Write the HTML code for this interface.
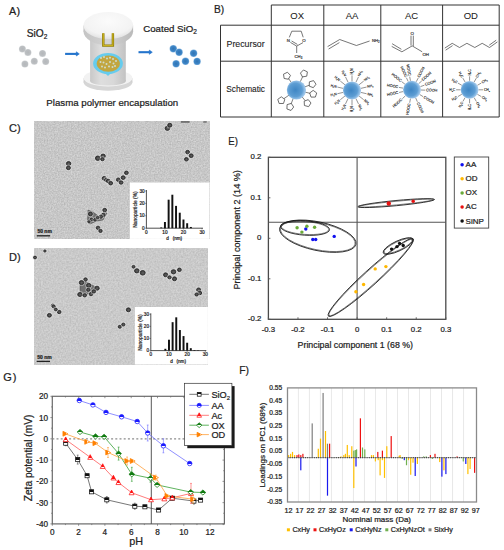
<!DOCTYPE html>
<html><head><meta charset="utf-8"><title>Figure</title>
<style>
html,body{margin:0;padding:0;background:#fff;}
body{width:504px;height:550px;overflow:hidden;font-family:"Liberation Sans", sans-serif;}
svg{display:block;font-family:"Liberation Sans", sans-serif;}
text{stroke:currentColor;stroke-width:0.22px;}
</style></head><body>
<svg width="504" height="550" viewBox="0 0 504 550">

<defs>
<linearGradient id="hfSiO2" x1="0" y1="0" x2="0" y2="1"><stop offset="0" stop-color="#111"/><stop offset="0.55" stop-color="#111"/><stop offset="0.55" stop-color="#fff"/><stop offset="1" stop-color="#fff"/></linearGradient>
<linearGradient id="hfAA" x1="0" y1="0" x2="0" y2="1"><stop offset="0" stop-color="#1a1aff"/><stop offset="0.55" stop-color="#1a1aff"/><stop offset="0.55" stop-color="#fff"/><stop offset="1" stop-color="#fff"/></linearGradient>
<linearGradient id="hfAc" x1="0" y1="0" x2="0" y2="1"><stop offset="0" stop-color="#ff1010"/><stop offset="0.7" stop-color="#ff1010"/><stop offset="0.7" stop-color="#fff"/><stop offset="1" stop-color="#fff"/></linearGradient>
<linearGradient id="hfOX" x1="0" y1="0" x2="0" y2="1"><stop offset="0" stop-color="#0f7a0f"/><stop offset="0.55" stop-color="#0f7a0f"/><stop offset="0.55" stop-color="#fff"/><stop offset="1" stop-color="#fff"/></linearGradient>
<linearGradient id="hfOD" x1="0" y1="0" x2="1" y2="0"><stop offset="0" stop-color="#ff8000"/><stop offset="0.55" stop-color="#ff8000"/><stop offset="0.55" stop-color="#fff"/><stop offset="1" stop-color="#fff"/></linearGradient>
<radialGradient id="gball" cx="0.5" cy="0.5" r="0.5"><stop offset="0" stop-color="#b4b7ba"/><stop offset="0.75" stop-color="#bcbfc2"/><stop offset="1" stop-color="#cfd2d4"/></radialGradient>
<radialGradient id="bball" cx="0.5" cy="0.5" r="0.5"><stop offset="0" stop-color="#2f73b3"/><stop offset="0.75" stop-color="#3f87c8"/><stop offset="1" stop-color="#8ab8e0"/></radialGradient>
<radialGradient id="sph" cx="0.45" cy="0.5" r="0.5"><stop offset="0" stop-color="#3f86c4"/><stop offset="0.7" stop-color="#5d9dd3"/><stop offset="1" stop-color="#9cc5ea"/></radialGradient>
<linearGradient id="gbody" x1="0" x2="1" y1="0" y2="0"><stop offset="0" stop-color="#c8c8c8"/><stop offset="0.3" stop-color="#dedede"/><stop offset="0.65" stop-color="#d8d8d8"/><stop offset="1" stop-color="#c2c2c2"/></linearGradient>
<linearGradient id="gcap" x1="0" x2="1" y1="0" y2="0"><stop offset="0" stop-color="#c4c4c4"/><stop offset="0.5" stop-color="#d4d4d4"/><stop offset="1" stop-color="#bababa"/></linearGradient>
<linearGradient id="gbase" x1="0" x2="1" y1="0" y2="0"><stop offset="0" stop-color="#d0d0d0"/><stop offset="0.5" stop-color="#ececec"/><stop offset="1" stop-color="#cfcfcf"/></linearGradient>
<radialGradient id="gtop" cx="0.5" cy="0.35" r="0.65"><stop offset="0" stop-color="#fbfbfb"/><stop offset="0.75" stop-color="#f3f3f3"/><stop offset="1" stop-color="#e2e2e2"/></radialGradient>
<filter id="noise1" x="0" y="0" width="100%" height="100%" color-interpolation-filters="sRGB"><feTurbulence type="fractalNoise" baseFrequency="0.7" numOctaves="2" seed="4"/><feColorMatrix type="matrix" values="0.2 0 0 0 0.68  0.2 0 0 0 0.68  0.2 0 0 0 0.68  0 0 0 0 1"/></filter>
<filter id="noise2" x="0" y="0" width="100%" height="100%" color-interpolation-filters="sRGB"><feTurbulence type="fractalNoise" baseFrequency="0.6" numOctaves="2" seed="9"/><feColorMatrix type="matrix" values="0.16 0 0 0 0.71  0.16 0 0 0 0.71  0.16 0 0 0 0.71  0 0 0 0 1"/></filter>
<filter id="bl6" x="-50%" y="-50%" width="200%" height="200%"><feGaussianBlur stdDeviation="0.7"/></filter>
<filter id="bl5" x="-50%" y="-50%" width="200%" height="200%"><feGaussianBlur stdDeviation="0.45"/></filter>
<filter id="soft" x="-5%" y="-5%" width="110%" height="110%"><feGaussianBlur stdDeviation="0.35"/></filter>
<radialGradient id="tp" cx="0.55" cy="0.55" r="0.55"><stop offset="0" stop-color="#626262"/><stop offset="0.6" stop-color="#4a4a4a"/><stop offset="1" stop-color="#363636"/></radialGradient>
</defs>

<rect width="504" height="550" fill="#fff"/>
<text x="9.00" y="14.90" font-size="10.8" text-anchor="start" fill="#222" color="#222" letter-spacing="0.4">A)</text>
<text x="26.80" y="37.20" font-size="10.2" text-anchor="start" fill="#222" color="#222" >SiO<tspan font-size="6.5" dy="2">2</tspan></text>
<circle cx="22.4" cy="48.9" r="3.5" fill="url(#gball)" filter="url(#bl6)"/>
<circle cx="27.9" cy="52.4" r="3.5" fill="url(#gball)" filter="url(#bl6)"/>
<circle cx="42.5" cy="53.4" r="3.5" fill="url(#gball)" filter="url(#bl6)"/>
<circle cx="24.9" cy="64.1" r="3.5" fill="url(#gball)" filter="url(#bl6)"/>
<circle cx="34.3" cy="61.3" r="3.5" fill="url(#gball)" filter="url(#bl6)"/>
<circle cx="45.7" cy="61.6" r="3.5" fill="url(#gball)" filter="url(#bl6)"/>
<line x1="65.1" y1="53.9" x2="76.8" y2="53.9" stroke="#2474cc" stroke-width="2.1"/><path d="M76.3,51.8 L79.3,53.9 L76.3,56.0 Z" fill="#2474cc" stroke="#2474cc" stroke-width="0.6" stroke-linejoin="round"/>
<line x1="138.5" y1="52.2" x2="149.8" y2="52.2" stroke="#2474cc" stroke-width="2.1"/><path d="M149.3,50.1 L152.3,52.2 L149.3,54.300000000000004 Z" fill="#2474cc" stroke="#2474cc" stroke-width="0.6" stroke-linejoin="round"/>
<ellipse cx="108" cy="82.3" rx="24.4" ry="8.4" fill="#d6d6d6"/>
<rect x="83.6" y="78" width="48.8" height="4.3" fill="url(#gbase)"/>
<ellipse cx="108" cy="78" rx="24.4" ry="8.4" fill="#f2f2f2"/>
<rect x="90.1" y="34" width="35.7" height="47" fill="url(#gbody)"/>
<ellipse cx="108" cy="81" rx="17.85" ry="4.6" fill="url(#gbody)"/>
<ellipse cx="108.3" cy="31.6" rx="24.8" ry="13.6" fill="url(#gcap)"/>
<rect x="83.5" y="25.5" width="49.6" height="6.1" fill="url(#gcap)"/>
<ellipse cx="108.3" cy="25.5" rx="24.8" ry="13.6" fill="url(#gtop)"/>
<path d="M103.3,33.2 L103.3,45.6 L112.9,45.6 L112.9,33.2" fill="none" stroke="#8f7d08" stroke-width="2.4"/>
<path d="M103.3,33.2 L103.3,45.6 L112.9,45.6 L112.9,33.2" fill="none" stroke="#d0b820" stroke-width="1.0"/>
<ellipse cx="108" cy="63.6" rx="14.9" ry="10.6" fill="#66ccee"/>
<path d="M105.5,73.5 L108,76 L110.5,73.5 Z" fill="#66ccee"/>
<ellipse cx="108.3" cy="63.6" rx="11.6" ry="8.2" fill="#c2a640"/>
<circle cx="101" cy="58" r="1.0" fill="#cfe8f0" opacity="0.8"/>
<circle cx="104" cy="57" r="1.0" fill="#cfe8f0" opacity="0.8"/>
<circle cx="107" cy="58.5" r="1.0" fill="#cfe8f0" opacity="0.8"/>
<circle cx="110" cy="57.8" r="1.0" fill="#cfe8f0" opacity="0.8"/>
<circle cx="113" cy="59" r="1.0" fill="#cfe8f0" opacity="0.8"/>
<circle cx="100.5" cy="62" r="1.0" fill="#cfe8f0" opacity="0.8"/>
<circle cx="103.5" cy="62.5" r="1.0" fill="#cfe8f0" opacity="0.8"/>
<circle cx="106.5" cy="64" r="1.0" fill="#cfe8f0" opacity="0.8"/>
<circle cx="110" cy="62" r="1.0" fill="#cfe8f0" opacity="0.8"/>
<circle cx="113.5" cy="63.5" r="1.0" fill="#cfe8f0" opacity="0.8"/>
<circle cx="116" cy="61" r="1.0" fill="#cfe8f0" opacity="0.8"/>
<circle cx="102" cy="66.5" r="1.0" fill="#cfe8f0" opacity="0.8"/>
<circle cx="105" cy="67.5" r="1.0" fill="#cfe8f0" opacity="0.8"/>
<circle cx="109" cy="66.5" r="1.0" fill="#cfe8f0" opacity="0.8"/>
<circle cx="112.5" cy="67" r="1.0" fill="#cfe8f0" opacity="0.8"/>
<circle cx="115" cy="66" r="1.0" fill="#cfe8f0" opacity="0.8"/>
<text x="143.20" y="32.20" font-size="9.7" text-anchor="start" fill="#222" color="#222" >Coated SiO<tspan font-size="6.5" dy="2">2</tspan></text>
<circle cx="173.3" cy="48.7" r="3.7" fill="url(#bball)" filter="url(#bl5)"/>
<circle cx="179.1" cy="52.3" r="3.7" fill="url(#bball)" filter="url(#bl5)"/>
<circle cx="193.6" cy="53.3" r="3.7" fill="url(#bball)" filter="url(#bl5)"/>
<circle cx="176.1" cy="63.8" r="3.7" fill="url(#bball)" filter="url(#bl5)"/>
<circle cx="185.5" cy="61.3" r="3.7" fill="url(#bball)" filter="url(#bl5)"/>
<circle cx="197.1" cy="61.4" r="3.7" fill="url(#bball)" filter="url(#bl5)"/>
<text x="112.30" y="106.20" font-size="9.7" text-anchor="middle" fill="#222" color="#222" >Plasma polymer encapsulation</text>
<text x="214.00" y="13.40" font-size="10.4" text-anchor="start" fill="#222" color="#222" textLength="10.2" lengthAdjust="spacingAndGlyphs">B)</text>
<line x1="271.3" y1="5" x2="499.2" y2="5" stroke="#333" stroke-width="1"/>
<line x1="220.5" y1="25.2" x2="499.2" y2="25.2" stroke="#333" stroke-width="1"/>
<line x1="220.5" y1="61.2" x2="499.2" y2="61.2" stroke="#333" stroke-width="1"/>
<line x1="220.5" y1="117" x2="499.2" y2="117" stroke="#333" stroke-width="1"/>
<line x1="220.5" y1="25.2" x2="220.5" y2="117" stroke="#333" stroke-width="1"/>
<line x1="271.3" y1="5" x2="271.3" y2="117" stroke="#333" stroke-width="1"/>
<line x1="323.8" y1="5" x2="323.8" y2="117" stroke="#333" stroke-width="1"/>
<line x1="380.8" y1="5" x2="380.8" y2="117" stroke="#333" stroke-width="1"/>
<line x1="442.6" y1="5" x2="442.6" y2="117" stroke="#333" stroke-width="1"/>
<line x1="499.2" y1="5" x2="499.2" y2="117" stroke="#333" stroke-width="1"/>
<text x="297.20" y="18.90" font-size="9.5" text-anchor="middle" fill="#222" color="#222" style="stroke-width:0.05px">OX</text>
<text x="352.00" y="18.90" font-size="9.5" text-anchor="middle" fill="#222" color="#222" style="stroke-width:0.05px">AA</text>
<text x="411.60" y="18.90" font-size="9.5" text-anchor="middle" fill="#222" color="#222" style="stroke-width:0.05px">AC</text>
<text x="470.80" y="18.90" font-size="9.5" text-anchor="middle" fill="#222" color="#222" style="stroke-width:0.05px">OD</text>
<text x="245.60" y="46.70" font-size="8.8" text-anchor="middle" fill="#222" color="#222" style="stroke-width:0.1px">Precursor</text>
<text x="245.60" y="92.20" font-size="8.3" text-anchor="middle" fill="#222" color="#222" style="stroke-width:0.1px">Schematic</text>
<path d="M291.8,31.2 L301.2,31.2 L303.2,37.3 M303.0,42.6 L296.7,46.1 L290.4,42.4 M289.3,37.4 L291.8,31.2 M296.7,46.1 L296.7,53.0 M291.6,41.0 L297.4,44.4" fill="none" stroke="#4a4a4a" stroke-width="0.75"/>
<text x="288.30" y="41.90" font-size="4.4" text-anchor="middle" fill="#444" color="#444" >N</text>
<text x="304.00" y="41.90" font-size="4.4" text-anchor="middle" fill="#444" color="#444" >O</text>
<text x="296.20" y="57.60" font-size="4.2" text-anchor="start" fill="#444" color="#444" transform="translate(-1.6,0)">CH<tspan font-size="2.8" dy="1">3</tspan></text>
<path d="M327.6,46.6 L339.7,39.5 L356.4,45.5 L369.6,41 M328.6,49.0 L339.4,42.6" fill="none" stroke="#4a4a4a" stroke-width="0.75"/>
<text x="372.00" y="42.40" font-size="4.2" text-anchor="start" fill="#444" color="#444" >NH<tspan font-size="2.8" dy="1">2</tspan></text>
<path d="M392.1,43.7 L401.4,49.3 M391.7,46.4 L401.9,51.8 L412.2,45.9 L422.2,51.8 M411.0,45.6 L411.0,35.6 M413.3,46.2 L413.3,35.6" fill="none" stroke="#4a4a4a" stroke-width="0.75"/>
<text x="412.10" y="34.60" font-size="4.4" text-anchor="middle" fill="#444" color="#444" >O</text>
<text x="425.70" y="56.00" font-size="4.4" text-anchor="middle" fill="#444" color="#444" >OH</text>
<path d="M444.8,48.1 L452.2,43.3 L459.5,47.5 L466.9,43.3 L474.8,47.5 L482.2,43.3 L489.5,47.5 L497.4,41.9 M445.6,50.2 L452.6,45.6 M489.2,45.2 L496.2,40.2" fill="none" stroke="#4a4a4a" stroke-width="0.75"/>
<line x1="288.60" y1="78.55" x2="291.33" y2="82.56" stroke="#4a4a4a" stroke-width="0.7"/>
<polygon points="287.44,72.26 290.46,75.39 288.42,79.23 284.14,78.47 283.53,74.16" fill="none" stroke="#4a4a4a" stroke-width="0.8"/>
<line x1="302.74" y1="76.50" x2="300.22" y2="81.85" stroke="#4a4a4a" stroke-width="0.7"/>
<polygon points="303.46,69.96 307.37,71.86 306.76,76.17 302.48,76.93 300.44,73.09" fill="none" stroke="#4a4a4a" stroke-width="0.8"/>
<line x1="309.30" y1="85.21" x2="304.84" y2="86.87" stroke="#4a4a4a" stroke-width="0.7"/>
<polygon points="313.57,80.62 316.00,84.23 313.32,87.66 309.23,86.17 309.38,81.82" fill="none" stroke="#4a4a4a" stroke-width="0.8"/>
<line x1="310.09" y1="93.34" x2="305.14" y2="92.13" stroke="#4a4a4a" stroke-width="0.7"/>
<polygon points="313.20,90.40 316.72,92.96 315.37,97.09 311.03,97.09 309.68,92.96" fill="none" stroke="#4a4a4a" stroke-width="0.8"/>
<line x1="305.26" y1="100.73" x2="302.13" y2="96.94" stroke="#4a4a4a" stroke-width="0.7"/>
<polygon points="308.26,99.63 310.99,103.01 308.63,106.65 304.42,105.53 304.20,101.18" fill="none" stroke="#4a4a4a" stroke-width="0.8"/>
<line x1="283.93" y1="98.67" x2="289.01" y2="95.14" stroke="#4a4a4a" stroke-width="0.7"/>
<polygon points="281.30,96.80 284.82,99.36 283.47,103.49 279.13,103.49 277.78,99.36" fill="none" stroke="#4a4a4a" stroke-width="0.8"/>
<line x1="291.13" y1="103.91" x2="293.21" y2="98.42" stroke="#4a4a4a" stroke-width="0.7"/>
<polygon points="291.27,103.42 293.70,107.03 291.02,110.46 286.93,108.97 287.08,104.62" fill="none" stroke="#4a4a4a" stroke-width="0.8"/>
<circle cx="296.4" cy="90.0" r="9.6" fill="url(#sph)"/>
<line x1="352.00" y1="81.40" x2="352.00" y2="75.40" stroke="#4a4a4a" stroke-width="0.6"/>
<text x="352.00" y="74.60" font-size="3.4" text-anchor="start" dominant-baseline="central" fill="#333" color="#333" style="stroke-width:0.15px" transform="rotate(-90.0 352.00 74.60)">H<tspan font-size="2.2" dy="0.8">2</tspan><tspan dy="-0.8">N</tspan></text>
<line x1="355.90" y1="82.29" x2="358.51" y2="76.89" stroke="#4a4a4a" stroke-width="0.6"/>
<text x="358.86" y="76.16" font-size="3.4" text-anchor="start" dominant-baseline="central" fill="#333" color="#333" style="stroke-width:0.15px" transform="rotate(-64.3 358.86 76.16)">NH<tspan font-size="2" dy="0.8">2</tspan></text>
<line x1="359.04" y1="84.79" x2="363.73" y2="81.05" stroke="#4a4a4a" stroke-width="0.6"/>
<text x="364.35" y="80.55" font-size="3.4" text-anchor="start" dominant-baseline="central" fill="#333" color="#333" style="stroke-width:0.15px" transform="rotate(-38.6 364.35 80.55)">NH<tspan font-size="2" dy="0.8">2</tspan></text>
<line x1="360.77" y1="88.40" x2="366.62" y2="87.06" stroke="#4a4a4a" stroke-width="0.6"/>
<text x="367.40" y="86.88" font-size="3.4" text-anchor="start" dominant-baseline="central" fill="#333" color="#333" style="stroke-width:0.15px" transform="rotate(-12.9 367.40 86.88)">NH<tspan font-size="2" dy="0.8">2</tspan></text>
<line x1="360.77" y1="92.40" x2="366.62" y2="93.74" stroke="#4a4a4a" stroke-width="0.6"/>
<text x="367.40" y="93.92" font-size="3.4" text-anchor="start" dominant-baseline="central" fill="#333" color="#333" style="stroke-width:0.15px" transform="rotate(12.9 367.40 93.92)">NH<tspan font-size="2" dy="0.8">2</tspan></text>
<line x1="359.04" y1="96.01" x2="363.73" y2="99.75" stroke="#4a4a4a" stroke-width="0.6"/>
<text x="364.35" y="100.25" font-size="3.4" text-anchor="start" dominant-baseline="central" fill="#333" color="#333" style="stroke-width:0.15px" transform="rotate(38.6 364.35 100.25)">NH<tspan font-size="2" dy="0.8">2</tspan></text>
<line x1="355.90" y1="98.51" x2="358.51" y2="103.91" stroke="#4a4a4a" stroke-width="0.6"/>
<text x="358.86" y="104.64" font-size="3.4" text-anchor="start" dominant-baseline="central" fill="#333" color="#333" style="stroke-width:0.15px" transform="rotate(64.3 358.86 104.64)">NH<tspan font-size="2" dy="0.8">2</tspan></text>
<line x1="352.00" y1="99.40" x2="352.00" y2="105.40" stroke="#4a4a4a" stroke-width="0.6"/>
<text x="352.00" y="106.20" font-size="3.4" text-anchor="end" dominant-baseline="central" fill="#333" color="#333" style="stroke-width:0.15px" transform="rotate(-90.0 352.00 106.20)">H<tspan font-size="2.2" dy="0.8">2</tspan><tspan dy="-0.8">N</tspan></text>
<line x1="348.10" y1="98.51" x2="345.49" y2="103.91" stroke="#4a4a4a" stroke-width="0.6"/>
<text x="345.14" y="104.64" font-size="3.4" text-anchor="end" dominant-baseline="central" fill="#333" color="#333" style="stroke-width:0.15px" transform="rotate(-64.3 345.14 104.64)">H<tspan font-size="2.2" dy="0.8">2</tspan><tspan dy="-0.8">N</tspan></text>
<line x1="344.96" y1="96.01" x2="340.27" y2="99.75" stroke="#4a4a4a" stroke-width="0.6"/>
<text x="339.65" y="100.25" font-size="3.4" text-anchor="end" dominant-baseline="central" fill="#333" color="#333" style="stroke-width:0.15px" transform="rotate(-38.6 339.65 100.25)">H<tspan font-size="2.2" dy="0.8">2</tspan><tspan dy="-0.8">N</tspan></text>
<line x1="343.23" y1="92.40" x2="337.38" y2="93.74" stroke="#4a4a4a" stroke-width="0.6"/>
<text x="336.60" y="93.92" font-size="3.4" text-anchor="end" dominant-baseline="central" fill="#333" color="#333" style="stroke-width:0.15px" transform="rotate(-12.9 336.60 93.92)">H<tspan font-size="2.2" dy="0.8">2</tspan><tspan dy="-0.8">N</tspan></text>
<line x1="343.23" y1="88.40" x2="337.38" y2="87.06" stroke="#4a4a4a" stroke-width="0.6"/>
<text x="336.60" y="86.88" font-size="3.4" text-anchor="end" dominant-baseline="central" fill="#333" color="#333" style="stroke-width:0.15px" transform="rotate(-347.1 336.60 86.88)">H<tspan font-size="2.2" dy="0.8">2</tspan><tspan dy="-0.8">N</tspan></text>
<line x1="344.96" y1="84.79" x2="340.27" y2="81.05" stroke="#4a4a4a" stroke-width="0.6"/>
<text x="339.65" y="80.55" font-size="3.4" text-anchor="end" dominant-baseline="central" fill="#333" color="#333" style="stroke-width:0.15px" transform="rotate(-321.4 339.65 80.55)">H<tspan font-size="2.2" dy="0.8">2</tspan><tspan dy="-0.8">N</tspan></text>
<line x1="348.10" y1="82.29" x2="345.49" y2="76.89" stroke="#4a4a4a" stroke-width="0.6"/>
<text x="345.14" y="76.16" font-size="3.4" text-anchor="end" dominant-baseline="central" fill="#333" color="#333" style="stroke-width:0.15px" transform="rotate(-295.7 345.14 76.16)">H<tspan font-size="2.2" dy="0.8">2</tspan><tspan dy="-0.8">N</tspan></text>
<circle cx="352.0" cy="90.4" r="9.0" fill="url(#sph)"/>
<line x1="410.44" y1="80.84" x2="409.71" y2="76.70" stroke="#4a4a4a" stroke-width="0.6"/>
<text x="409.57" y="75.91" font-size="3.8" text-anchor="end" dominant-baseline="central" fill="#333" color="#333" style="stroke-width:0.15px" transform="rotate(-280.0 409.57 75.91)">HOOC</text>
<line x1="416.23" y1="81.75" x2="418.20" y2="78.05" stroke="#4a4a4a" stroke-width="0.6"/>
<text x="418.57" y="77.34" font-size="3.8" text-anchor="start" dominant-baseline="central" fill="#333" color="#333" style="stroke-width:0.15px" transform="rotate(-62.0 418.57 77.34)">COOH</text>
<line x1="418.69" y1="83.68" x2="421.81" y2="80.87" stroke="#4a4a4a" stroke-width="0.6"/>
<text x="422.40" y="80.33" font-size="3.8" text-anchor="start" dominant-baseline="central" fill="#333" color="#333" style="stroke-width:0.15px" transform="rotate(-42.0 422.40 80.33)">COOH</text>
<line x1="420.46" y1="86.62" x2="424.40" y2="85.19" stroke="#4a4a4a" stroke-width="0.6"/>
<text x="425.16" y="84.91" font-size="3.8" text-anchor="start" dominant-baseline="central" fill="#333" color="#333" style="stroke-width:0.15px" transform="rotate(-20.0 425.16 84.91)">COOH</text>
<line x1="420.99" y1="90.01" x2="425.19" y2="90.16" stroke="#4a4a4a" stroke-width="0.6"/>
<text x="425.99" y="90.19" font-size="3.8" text-anchor="start" dominant-baseline="central" fill="#333" color="#333" style="stroke-width:0.15px" transform="rotate(2.0 425.99 90.19)">COOH</text>
<line x1="419.63" y1="94.47" x2="423.19" y2="96.69" stroke="#4a4a4a" stroke-width="0.6"/>
<text x="423.87" y="97.12" font-size="3.8" text-anchor="start" dominant-baseline="central" fill="#333" color="#333" style="stroke-width:0.15px" transform="rotate(32.0 423.87 97.12)">COOH</text>
<line x1="415.66" y1="97.92" x2="417.37" y2="101.76" stroke="#4a4a4a" stroke-width="0.6"/>
<text x="417.69" y="102.49" font-size="3.8" text-anchor="start" dominant-baseline="central" fill="#333" color="#333" style="stroke-width:0.15px" transform="rotate(66.0 417.69 102.49)">COOH</text>
<line x1="410.44" y1="98.56" x2="409.71" y2="102.70" stroke="#4a4a4a" stroke-width="0.6"/>
<text x="409.57" y="103.49" font-size="3.8" text-anchor="end" dominant-baseline="central" fill="#333" color="#333" style="stroke-width:0.15px" transform="rotate(-80.0 409.57 103.49)">HOOC</text>
<line x1="405.42" y1="95.84" x2="402.35" y2="98.70" stroke="#4a4a4a" stroke-width="0.6"/>
<text x="401.76" y="99.25" font-size="3.8" text-anchor="end" dominant-baseline="central" fill="#333" color="#333" style="stroke-width:0.15px" transform="rotate(-43.0 401.76 99.25)">HOOC</text>
<line x1="403.20" y1="91.57" x2="399.09" y2="92.44" stroke="#4a4a4a" stroke-width="0.6"/>
<text x="398.31" y="92.61" font-size="3.8" text-anchor="end" dominant-baseline="central" fill="#333" color="#333" style="stroke-width:0.15px" transform="rotate(-12.0 398.31 92.61)">HOOC</text>
<line x1="403.14" y1="88.14" x2="399.00" y2="87.41" stroke="#4a4a4a" stroke-width="0.6"/>
<text x="398.21" y="87.27" font-size="3.8" text-anchor="end" dominant-baseline="central" fill="#333" color="#333" style="stroke-width:0.15px" transform="rotate(-350.0 398.21 87.27)">HOOC</text>
<line x1="404.91" y1="84.16" x2="401.60" y2="81.57" stroke="#4a4a4a" stroke-width="0.6"/>
<text x="400.97" y="81.08" font-size="3.8" text-anchor="end" dominant-baseline="central" fill="#333" color="#333" style="stroke-width:0.15px" transform="rotate(-322.0 400.97 81.08)">HOOC</text>
<line x1="408.20" y1="81.54" x2="406.42" y2="77.74" stroke="#4a4a4a" stroke-width="0.6"/>
<text x="406.08" y="77.01" font-size="3.8" text-anchor="end" dominant-baseline="central" fill="#333" color="#333" style="stroke-width:0.15px" transform="rotate(-295.0 406.08 77.01)">HOOC</text>
<circle cx="412.0" cy="89.7" r="8.9" fill="url(#sph)"/>
<line x1="469.60" y1="80.80" x2="469.60" y2="76.30" stroke="#4a4a4a" stroke-width="0.6"/>
<text x="469.60" y="75.50" font-size="3.4" text-anchor="start" dominant-baseline="central" fill="#333" color="#333" style="stroke-width:0.15px" transform="rotate(-90.0 469.60 75.50)">H<tspan font-size="2.2" dy="0.8">3</tspan><tspan dy="-0.8">C</tspan></text>
<line x1="474.10" y1="82.01" x2="476.35" y2="78.11" stroke="#4a4a4a" stroke-width="0.6"/>
<text x="476.75" y="77.42" font-size="3.4" text-anchor="start" dominant-baseline="central" fill="#333" color="#333" style="stroke-width:0.15px" transform="rotate(-60.0 476.75 77.42)">CH<tspan font-size="2" dy="0.8">3</tspan></text>
<line x1="477.39" y1="85.30" x2="481.29" y2="83.05" stroke="#4a4a4a" stroke-width="0.6"/>
<text x="481.98" y="82.65" font-size="3.4" text-anchor="start" dominant-baseline="central" fill="#333" color="#333" style="stroke-width:0.15px" transform="rotate(-30.0 481.98 82.65)">CH<tspan font-size="2" dy="0.8">3</tspan></text>
<line x1="478.60" y1="89.80" x2="483.10" y2="89.80" stroke="#4a4a4a" stroke-width="0.6"/>
<text x="483.90" y="89.80" font-size="3.4" text-anchor="start" dominant-baseline="central" fill="#333" color="#333" style="stroke-width:0.15px" transform="rotate(0.0 483.90 89.80)">CH<tspan font-size="2" dy="0.8">3</tspan></text>
<line x1="477.39" y1="94.30" x2="481.29" y2="96.55" stroke="#4a4a4a" stroke-width="0.6"/>
<text x="481.98" y="96.95" font-size="3.4" text-anchor="start" dominant-baseline="central" fill="#333" color="#333" style="stroke-width:0.15px" transform="rotate(30.0 481.98 96.95)">CH<tspan font-size="2" dy="0.8">3</tspan></text>
<line x1="474.10" y1="97.59" x2="476.35" y2="101.49" stroke="#4a4a4a" stroke-width="0.6"/>
<text x="476.75" y="102.18" font-size="3.4" text-anchor="start" dominant-baseline="central" fill="#333" color="#333" style="stroke-width:0.15px" transform="rotate(60.0 476.75 102.18)">CH<tspan font-size="2" dy="0.8">3</tspan></text>
<line x1="469.60" y1="98.80" x2="469.60" y2="103.30" stroke="#4a4a4a" stroke-width="0.6"/>
<text x="469.60" y="104.10" font-size="3.4" text-anchor="end" dominant-baseline="central" fill="#333" color="#333" style="stroke-width:0.15px" transform="rotate(-90.0 469.60 104.10)">H<tspan font-size="2.2" dy="0.8">3</tspan><tspan dy="-0.8">C</tspan></text>
<line x1="465.10" y1="97.59" x2="462.85" y2="101.49" stroke="#4a4a4a" stroke-width="0.6"/>
<text x="462.45" y="102.18" font-size="3.4" text-anchor="end" dominant-baseline="central" fill="#333" color="#333" style="stroke-width:0.15px" transform="rotate(-60.0 462.45 102.18)">H<tspan font-size="2.2" dy="0.8">3</tspan><tspan dy="-0.8">C</tspan></text>
<line x1="461.81" y1="94.30" x2="457.91" y2="96.55" stroke="#4a4a4a" stroke-width="0.6"/>
<text x="457.22" y="96.95" font-size="3.4" text-anchor="end" dominant-baseline="central" fill="#333" color="#333" style="stroke-width:0.15px" transform="rotate(-30.0 457.22 96.95)">H<tspan font-size="2.2" dy="0.8">3</tspan><tspan dy="-0.8">C</tspan></text>
<line x1="460.60" y1="89.80" x2="456.10" y2="89.80" stroke="#4a4a4a" stroke-width="0.6"/>
<text x="455.30" y="89.80" font-size="3.4" text-anchor="end" dominant-baseline="central" fill="#333" color="#333" style="stroke-width:0.15px" transform="rotate(-360.0 455.30 89.80)">H<tspan font-size="2.2" dy="0.8">3</tspan><tspan dy="-0.8">C</tspan></text>
<line x1="461.81" y1="85.30" x2="457.91" y2="83.05" stroke="#4a4a4a" stroke-width="0.6"/>
<text x="457.22" y="82.65" font-size="3.4" text-anchor="end" dominant-baseline="central" fill="#333" color="#333" style="stroke-width:0.15px" transform="rotate(-330.0 457.22 82.65)">H<tspan font-size="2.2" dy="0.8">3</tspan><tspan dy="-0.8">C</tspan></text>
<line x1="465.10" y1="82.01" x2="462.85" y2="78.11" stroke="#4a4a4a" stroke-width="0.6"/>
<text x="462.45" y="77.42" font-size="3.4" text-anchor="end" dominant-baseline="central" fill="#333" color="#333" style="stroke-width:0.15px" transform="rotate(-300.0 462.45 77.42)">H<tspan font-size="2.2" dy="0.8">3</tspan><tspan dy="-0.8">C</tspan></text>
<circle cx="469.6" cy="89.8" r="8.9" fill="url(#sph)"/>
<text x="9.00" y="131.90" font-size="11" text-anchor="start" fill="#222" color="#222" >C)</text>
<rect x="34.1" y="121.3" width="175.4" height="117.60000000000001" fill="#c6c6c6"/>
<rect x="34.1" y="121.3" width="175.4" height="117.60000000000001" filter="url(#noise1)"/>
<g filter="url(#soft)"><polygon points="88,210 93,212 99,216.5 104,212 107,213 103,220 97,221 90,224 87.5,222" fill="#e0e0e0" stroke="#e0e0e0" stroke-width="1.6" opacity="0.5"/><polygon points="88,210 93,212 99,216.5 104,212 107,213 103,220 97,221 90,224 87.5,222" fill="#707070" stroke="#4a4a4a" stroke-width="0.6"/><circle cx="68.6" cy="163.6" r="3.4" fill="#e2e2e2" opacity="0.5"/><ellipse cx="68.6" cy="163.6" rx="2.2" ry="2.0240000000000005" fill="url(#tp)" stroke="#2c2c2c" stroke-width="0.9"/><circle cx="68.4" cy="167.8" r="3.1999999999999997" fill="#e2e2e2" opacity="0.5"/><ellipse cx="68.4" cy="167.8" rx="1.9999999999999998" ry="1.8399999999999999" fill="url(#tp)" stroke="#2c2c2c" stroke-width="0.9"/><circle cx="97.8" cy="158.2" r="3.6" fill="#e2e2e2" opacity="0.5"/><ellipse cx="97.8" cy="158.2" rx="2.4000000000000004" ry="2.2080000000000006" fill="url(#tp)" stroke="#2c2c2c" stroke-width="0.9"/><circle cx="103.1" cy="156.1" r="3.4" fill="#e2e2e2" opacity="0.5"/><ellipse cx="103.1" cy="156.1" rx="2.2" ry="2.0240000000000005" fill="url(#tp)" stroke="#2c2c2c" stroke-width="0.9"/><circle cx="102.4" cy="159.2" r="2.9" fill="#e2e2e2" opacity="0.5"/><ellipse cx="102.4" cy="159.2" rx="1.7" ry="1.564" fill="url(#tp)" stroke="#2c2c2c" stroke-width="0.9"/><circle cx="167.4" cy="128.3" r="3.5" fill="#e2e2e2" opacity="0.5"/><ellipse cx="167.4" cy="128.3" rx="2.3000000000000003" ry="2.1160000000000005" fill="url(#tp)" stroke="#2c2c2c" stroke-width="0.9"/><circle cx="169.8" cy="125.2" r="3.3" fill="#e2e2e2" opacity="0.5"/><ellipse cx="169.8" cy="125.2" rx="2.1" ry="1.9320000000000002" fill="url(#tp)" stroke="#2c2c2c" stroke-width="0.9"/><circle cx="187.6" cy="152.1" r="3.1" fill="#e2e2e2" opacity="0.5"/><ellipse cx="187.6" cy="152.1" rx="1.9000000000000001" ry="1.7480000000000002" fill="url(#tp)" stroke="#2c2c2c" stroke-width="0.9"/><circle cx="191.2" cy="155.7" r="3.1999999999999997" fill="#e2e2e2" opacity="0.5"/><ellipse cx="191.2" cy="155.7" rx="1.9999999999999998" ry="1.8399999999999999" fill="url(#tp)" stroke="#2c2c2c" stroke-width="0.9"/><circle cx="186.4" cy="159.3" r="3.1" fill="#e2e2e2" opacity="0.5"/><ellipse cx="186.4" cy="159.3" rx="1.9000000000000001" ry="1.7480000000000002" fill="url(#tp)" stroke="#2c2c2c" stroke-width="0.9"/><circle cx="104.2" cy="178.3" r="3.1999999999999997" fill="#e2e2e2" opacity="0.5"/><ellipse cx="104.2" cy="178.3" rx="1.9999999999999998" ry="1.8399999999999999" fill="url(#tp)" stroke="#2c2c2c" stroke-width="0.9"/><circle cx="106.2" cy="180.0" r="2.9" fill="#e2e2e2" opacity="0.5"/><ellipse cx="106.2" cy="180.0" rx="1.7" ry="1.564" fill="url(#tp)" stroke="#2c2c2c" stroke-width="0.9"/><circle cx="108.2" cy="181.0" r="3.1" fill="#e2e2e2" opacity="0.5"/><ellipse cx="108.2" cy="181.0" rx="1.9000000000000001" ry="1.7480000000000002" fill="url(#tp)" stroke="#2c2c2c" stroke-width="0.9"/><circle cx="110.7" cy="183.2" r="3.1" fill="#e2e2e2" opacity="0.5"/><ellipse cx="110.7" cy="183.2" rx="1.9000000000000001" ry="1.7480000000000002" fill="url(#tp)" stroke="#2c2c2c" stroke-width="0.9"/><circle cx="118.3" cy="179.7" r="3.1" fill="#e2e2e2" opacity="0.5"/><ellipse cx="118.3" cy="179.7" rx="1.9000000000000001" ry="1.7480000000000002" fill="url(#tp)" stroke="#2c2c2c" stroke-width="0.9"/><circle cx="121.1" cy="182.5" r="3.1" fill="#e2e2e2" opacity="0.5"/><ellipse cx="121.1" cy="182.5" rx="1.9000000000000001" ry="1.7480000000000002" fill="url(#tp)" stroke="#2c2c2c" stroke-width="0.9"/><circle cx="123.2" cy="177.6" r="3.1999999999999997" fill="#e2e2e2" opacity="0.5"/><ellipse cx="123.2" cy="177.6" rx="1.9999999999999998" ry="1.8399999999999999" fill="url(#tp)" stroke="#2c2c2c" stroke-width="0.9"/><circle cx="126.4" cy="172.8" r="3.1" fill="#e2e2e2" opacity="0.5"/><ellipse cx="126.4" cy="172.8" rx="1.9000000000000001" ry="1.7480000000000002" fill="url(#tp)" stroke="#2c2c2c" stroke-width="0.9"/><circle cx="90.4" cy="213.9" r="3.1999999999999997" fill="#e2e2e2" opacity="0.5"/><ellipse cx="90.4" cy="213.9" rx="1.9999999999999998" ry="1.8399999999999999" fill="url(#tp)" stroke="#2c2c2c" stroke-width="0.9"/><circle cx="104.7" cy="210.1" r="3.1" fill="#e2e2e2" opacity="0.5"/><ellipse cx="104.7" cy="210.1" rx="1.9000000000000001" ry="1.7480000000000002" fill="url(#tp)" stroke="#2c2c2c" stroke-width="0.9"/><circle cx="103.3" cy="214.9" r="3.0" fill="#e2e2e2" opacity="0.5"/><ellipse cx="103.3" cy="214.9" rx="1.8" ry="1.6560000000000001" fill="url(#tp)" stroke="#2c2c2c" stroke-width="0.9"/><circle cx="100.8" cy="216.7" r="2.9" fill="#e2e2e2" opacity="0.5"/><ellipse cx="100.8" cy="216.7" rx="1.7" ry="1.564" fill="url(#tp)" stroke="#2c2c2c" stroke-width="0.9"/><circle cx="98.0" cy="227.8" r="3.0" fill="#e2e2e2" opacity="0.5"/><ellipse cx="98.0" cy="227.8" rx="1.8" ry="1.6560000000000001" fill="url(#tp)" stroke="#2c2c2c" stroke-width="0.9"/><circle cx="100.5" cy="230.9" r="2.9" fill="#e2e2e2" opacity="0.5"/><ellipse cx="100.5" cy="230.9" rx="1.7" ry="1.564" fill="url(#tp)" stroke="#2c2c2c" stroke-width="0.9"/><circle cx="91.5" cy="219.5" r="2.7" fill="#e2e2e2" opacity="0.5"/><ellipse cx="91.5" cy="219.5" rx="1.5" ry="1.3800000000000001" fill="url(#tp)" stroke="#2c2c2c" stroke-width="0.9"/><circle cx="95.0" cy="219.8" r="2.6" fill="#e2e2e2" opacity="0.5"/><ellipse cx="95.0" cy="219.8" rx="1.4" ry="1.288" fill="url(#tp)" stroke="#2c2c2c" stroke-width="0.9"/><circle cx="97.6" cy="217.6" r="2.5" fill="#e2e2e2" opacity="0.5"/><ellipse cx="97.6" cy="217.6" rx="1.3" ry="1.1960000000000002" fill="url(#tp)" stroke="#2c2c2c" stroke-width="0.9"/><circle cx="89.0" cy="221.8" r="2.4" fill="#e2e2e2" opacity="0.5"/><ellipse cx="89.0" cy="221.8" rx="1.2" ry="1.104" fill="url(#tp)" stroke="#2c2c2c" stroke-width="0.9"/></g>
<rect x="180.8" y="121.3" width="8.8" height="1.3" fill="#333" opacity="0.8"/><rect x="203.3" y="121.3" width="3.4" height="1.3" fill="#333" opacity="0.7"/>
<text x="37.40" y="233.40" font-size="5.0" text-anchor="start" fill="#222" color="#222" font-weight="bold">50  nm</text>
<line x1="36.800000000000004" y1="235.8" x2="50.1" y2="235.8" stroke="#222" stroke-width="1.3"/>
<rect x="129.8" y="182.5" width="79.69999999999999" height="56.400000000000006" fill="#fff"/>
<line x1="146.4" y1="228.2" x2="146.4" y2="190.0" stroke="#222" stroke-width="0.8"/>
<line x1="146.4" y1="228.2" x2="202.99" y2="228.2" stroke="#222" stroke-width="0.8"/>
<line x1="145.20000000000002" y1="228.20" x2="146.4" y2="228.20" stroke="#222" stroke-width="0.5"/>
<text x="144.60" y="229.70" font-size="4.7" text-anchor="end" fill="#222" color="#222" >0</text>
<line x1="146.40" y1="228.2" x2="146.40" y2="229.39999999999998" stroke="#222" stroke-width="0.5"/>
<text x="146.40" y="233.80" font-size="4.7" text-anchor="middle" fill="#222" color="#222" >0</text>
<line x1="145.20000000000002" y1="215.80" x2="146.4" y2="215.80" stroke="#222" stroke-width="0.5"/>
<text x="144.60" y="217.30" font-size="4.7" text-anchor="end" fill="#222" color="#222" >10</text>
<line x1="164.93" y1="228.2" x2="164.93" y2="229.39999999999998" stroke="#222" stroke-width="0.5"/>
<text x="164.93" y="233.80" font-size="4.7" text-anchor="middle" fill="#222" color="#222" >10</text>
<line x1="145.20000000000002" y1="203.40" x2="146.4" y2="203.40" stroke="#222" stroke-width="0.5"/>
<text x="144.60" y="204.90" font-size="4.7" text-anchor="end" fill="#222" color="#222" >20</text>
<line x1="183.46" y1="228.2" x2="183.46" y2="229.39999999999998" stroke="#222" stroke-width="0.5"/>
<text x="183.46" y="233.80" font-size="4.7" text-anchor="middle" fill="#222" color="#222" >20</text>
<line x1="145.20000000000002" y1="191.00" x2="146.4" y2="191.00" stroke="#222" stroke-width="0.5"/>
<text x="144.60" y="192.50" font-size="4.7" text-anchor="end" fill="#222" color="#222" >30</text>
<line x1="201.99" y1="228.2" x2="201.99" y2="229.39999999999998" stroke="#222" stroke-width="0.5"/>
<text x="201.99" y="233.80" font-size="4.7" text-anchor="middle" fill="#222" color="#222" >30</text>
<rect x="160.25" y="227.46" width="1.95" height="0.74" fill="#111"/>
<rect x="163.96" y="222.00" width="1.95" height="6.20" fill="#111"/>
<rect x="167.66" y="199.68" width="1.95" height="28.52" fill="#111"/>
<rect x="171.37" y="194.72" width="1.95" height="33.48" fill="#111"/>
<rect x="175.07" y="205.88" width="1.95" height="22.32" fill="#111"/>
<rect x="178.78" y="212.70" width="1.95" height="15.50" fill="#111"/>
<rect x="182.49" y="219.52" width="1.95" height="8.68" fill="#111"/>
<rect x="186.19" y="223.24" width="1.95" height="4.96" fill="#111"/>
<rect x="189.90" y="226.96" width="1.95" height="1.24" fill="#111"/>
<text x="174.19" y="240.10" font-size="4.6" text-anchor="middle" fill="#222" color="#222" >d&#160;&#160;&#160;(nm)</text>
<text x="137.20" y="209.60" font-size="4.9" text-anchor="middle" fill="#333" color="#333" transform="rotate(-90 137.20000000000002 209.6)">Nanoparticle (%)</text>
<text x="9.00" y="261.10" font-size="11" text-anchor="start" fill="#222" color="#222" >D)</text>
<rect x="34.0" y="248.5" width="173.9" height="116.0" fill="#cbcbcb"/>
<rect x="34.0" y="248.5" width="173.9" height="116.0" filter="url(#noise2)"/>
<g filter="url(#soft)"><polygon points="80,284 85,281 90,284 96,287 96,290 91,292 86,295 81,295 80,290" fill="#e0e0e0" stroke="#e0e0e0" stroke-width="1.6" opacity="0.5"/><polygon points="80,284 85,281 90,284 96,287 96,290 91,292 86,295 81,295 80,290" fill="#707070" stroke="#4a4a4a" stroke-width="0.6"/><circle cx="35" cy="257.5" r="2.7" fill="#e2e2e2" opacity="0.5"/><ellipse cx="35" cy="257.5" rx="1.5" ry="1.3800000000000001" fill="url(#tp)" stroke="#2c2c2c" stroke-width="0.9"/><circle cx="44.9" cy="251" r="2.4" fill="#e2e2e2" opacity="0.5"/><ellipse cx="44.9" cy="251" rx="1.2" ry="1.104" fill="url(#tp)" stroke="#2c2c2c" stroke-width="0.9"/><circle cx="52.8" cy="305.5" r="2.7" fill="#e2e2e2" opacity="0.5"/><ellipse cx="52.8" cy="305.5" rx="1.5" ry="1.3800000000000001" fill="url(#tp)" stroke="#2c2c2c" stroke-width="0.9"/><circle cx="85.5" cy="279.5" r="3.0" fill="#e2e2e2" opacity="0.5"/><ellipse cx="85.5" cy="279.5" rx="1.8" ry="1.6560000000000001" fill="url(#tp)" stroke="#2c2c2c" stroke-width="0.9"/><circle cx="81.5" cy="282.6" r="3.4" fill="#e2e2e2" opacity="0.5"/><ellipse cx="81.5" cy="282.6" rx="2.2" ry="2.0240000000000005" fill="url(#tp)" stroke="#2c2c2c" stroke-width="0.9"/><circle cx="88.7" cy="285.4" r="3.4" fill="#e2e2e2" opacity="0.5"/><ellipse cx="88.7" cy="285.4" rx="2.2" ry="2.0240000000000005" fill="url(#tp)" stroke="#2c2c2c" stroke-width="0.9"/><circle cx="97" cy="288.2" r="3.4" fill="#e2e2e2" opacity="0.5"/><ellipse cx="97" cy="288.2" rx="2.2" ry="2.0240000000000005" fill="url(#tp)" stroke="#2c2c2c" stroke-width="0.9"/><circle cx="79.9" cy="294.5" r="3.4" fill="#e2e2e2" opacity="0.5"/><ellipse cx="79.9" cy="294.5" rx="2.2" ry="2.0240000000000005" fill="url(#tp)" stroke="#2c2c2c" stroke-width="0.9"/><circle cx="84.7" cy="295.3" r="3.0" fill="#e2e2e2" opacity="0.5"/><ellipse cx="84.7" cy="295.3" rx="1.8" ry="1.6560000000000001" fill="url(#tp)" stroke="#2c2c2c" stroke-width="0.9"/><circle cx="91" cy="294.1" r="3.0" fill="#e2e2e2" opacity="0.5"/><ellipse cx="91" cy="294.1" rx="1.8" ry="1.6560000000000001" fill="url(#tp)" stroke="#2c2c2c" stroke-width="0.9"/><circle cx="88.3" cy="289.8" r="2.9" fill="#e2e2e2" opacity="0.5"/><ellipse cx="88.3" cy="289.8" rx="1.7" ry="1.564" fill="url(#tp)" stroke="#2c2c2c" stroke-width="0.9"/><circle cx="93.8" cy="291.4" r="3.0" fill="#e2e2e2" opacity="0.5"/><ellipse cx="93.8" cy="291.4" rx="1.8" ry="1.6560000000000001" fill="url(#tp)" stroke="#2c2c2c" stroke-width="0.9"/><circle cx="136.8" cy="270.8" r="3.5" fill="#e2e2e2" opacity="0.5"/><ellipse cx="136.8" cy="270.8" rx="2.3000000000000003" ry="2.1160000000000005" fill="url(#tp)" stroke="#2c2c2c" stroke-width="0.9"/><circle cx="142.7" cy="272.8" r="3.6999999999999997" fill="#e2e2e2" opacity="0.5"/><ellipse cx="142.7" cy="272.8" rx="2.5" ry="2.3000000000000003" fill="url(#tp)" stroke="#2c2c2c" stroke-width="0.9"/><circle cx="133.5" cy="266.8" r="2.7" fill="#e2e2e2" opacity="0.5"/><ellipse cx="133.5" cy="266.8" rx="1.5" ry="1.3800000000000001" fill="url(#tp)" stroke="#2c2c2c" stroke-width="0.9"/><circle cx="165.6" cy="274.8" r="3.3" fill="#e2e2e2" opacity="0.5"/><ellipse cx="165.6" cy="274.8" rx="2.1" ry="1.9320000000000002" fill="url(#tp)" stroke="#2c2c2c" stroke-width="0.9"/><circle cx="173.5" cy="271.8" r="3.5" fill="#e2e2e2" opacity="0.5"/><ellipse cx="173.5" cy="271.8" rx="2.3000000000000003" ry="2.1160000000000005" fill="url(#tp)" stroke="#2c2c2c" stroke-width="0.9"/><circle cx="174.5" cy="278.8" r="3.3" fill="#e2e2e2" opacity="0.5"/><ellipse cx="174.5" cy="278.8" rx="2.1" ry="1.9320000000000002" fill="url(#tp)" stroke="#2c2c2c" stroke-width="0.9"/><circle cx="179.4" cy="269.8" r="3.1" fill="#e2e2e2" opacity="0.5"/><ellipse cx="179.4" cy="269.8" rx="1.9000000000000001" ry="1.7480000000000002" fill="url(#tp)" stroke="#2c2c2c" stroke-width="0.9"/><circle cx="169.5" cy="277.3" r="2.9" fill="#e2e2e2" opacity="0.5"/><ellipse cx="169.5" cy="277.3" rx="1.7" ry="1.564" fill="url(#tp)" stroke="#2c2c2c" stroke-width="0.9"/><circle cx="198.6" cy="289.8" r="3.1999999999999997" fill="#e2e2e2" opacity="0.5"/><ellipse cx="198.6" cy="289.8" rx="1.9999999999999998" ry="1.8399999999999999" fill="url(#tp)" stroke="#2c2c2c" stroke-width="0.9"/><circle cx="199.8" cy="293.0" r="3.1" fill="#e2e2e2" opacity="0.5"/><ellipse cx="199.8" cy="293.0" rx="1.9000000000000001" ry="1.7480000000000002" fill="url(#tp)" stroke="#2c2c2c" stroke-width="0.9"/><circle cx="196.6" cy="294.5" r="2.9" fill="#e2e2e2" opacity="0.5"/><ellipse cx="196.6" cy="294.5" rx="1.7" ry="1.564" fill="url(#tp)" stroke="#2c2c2c" stroke-width="0.9"/><circle cx="49.4" cy="315.3" r="3.1999999999999997" fill="#e2e2e2" opacity="0.5"/><ellipse cx="49.4" cy="315.3" rx="1.9999999999999998" ry="1.8399999999999999" fill="url(#tp)" stroke="#2c2c2c" stroke-width="0.9"/><circle cx="53.7" cy="306.5" r="2.8" fill="#e2e2e2" opacity="0.5"/><ellipse cx="53.7" cy="306.5" rx="1.5999999999999999" ry="1.472" fill="url(#tp)" stroke="#2c2c2c" stroke-width="0.9"/><circle cx="59.2" cy="312" r="3.0" fill="#e2e2e2" opacity="0.5"/><ellipse cx="59.2" cy="312" rx="1.8" ry="1.6560000000000001" fill="url(#tp)" stroke="#2c2c2c" stroke-width="0.9"/><circle cx="55.8" cy="309.5" r="2.7" fill="#e2e2e2" opacity="0.5"/><ellipse cx="55.8" cy="309.5" rx="1.5" ry="1.3800000000000001" fill="url(#tp)" stroke="#2c2c2c" stroke-width="0.9"/><circle cx="128.4" cy="309.8" r="3.3" fill="#e2e2e2" opacity="0.5"/><ellipse cx="128.4" cy="309.8" rx="2.1" ry="1.9320000000000002" fill="url(#tp)" stroke="#2c2c2c" stroke-width="0.9"/><circle cx="119.8" cy="326.8" r="2.8" fill="#e2e2e2" opacity="0.5"/><ellipse cx="119.8" cy="326.8" rx="1.5999999999999999" ry="1.472" fill="url(#tp)" stroke="#2c2c2c" stroke-width="0.9"/><circle cx="123.3" cy="324.6" r="2.8" fill="#e2e2e2" opacity="0.5"/><ellipse cx="123.3" cy="324.6" rx="1.5999999999999999" ry="1.472" fill="url(#tp)" stroke="#2c2c2c" stroke-width="0.9"/></g>
<text x="37.30" y="359.00" font-size="5.0" text-anchor="start" fill="#222" color="#222" font-weight="bold">50  nm</text>
<line x1="36.7" y1="361.4" x2="50.0" y2="361.4" stroke="#222" stroke-width="1.3"/>
<rect x="134.9" y="307.0" width="73.0" height="57.5" fill="#fff"/>
<line x1="150.8" y1="350.6" x2="150.8" y2="313.3" stroke="#222" stroke-width="0.8"/>
<line x1="150.8" y1="350.6" x2="206.34" y2="350.6" stroke="#222" stroke-width="0.8"/>
<line x1="149.60000000000002" y1="350.60" x2="150.8" y2="350.60" stroke="#222" stroke-width="0.5"/>
<text x="149.00" y="352.10" font-size="4.7" text-anchor="end" fill="#222" color="#222" >0</text>
<line x1="150.80" y1="350.6" x2="150.80" y2="351.8" stroke="#222" stroke-width="0.5"/>
<text x="150.80" y="356.20" font-size="4.7" text-anchor="middle" fill="#222" color="#222" >0</text>
<line x1="149.60000000000002" y1="338.50" x2="150.8" y2="338.50" stroke="#222" stroke-width="0.5"/>
<text x="149.00" y="340.00" font-size="4.7" text-anchor="end" fill="#222" color="#222" >10</text>
<line x1="168.98" y1="350.6" x2="168.98" y2="351.8" stroke="#222" stroke-width="0.5"/>
<text x="168.98" y="356.20" font-size="4.7" text-anchor="middle" fill="#222" color="#222" >10</text>
<line x1="149.60000000000002" y1="326.40" x2="150.8" y2="326.40" stroke="#222" stroke-width="0.5"/>
<text x="149.00" y="327.90" font-size="4.7" text-anchor="end" fill="#222" color="#222" >20</text>
<line x1="187.16" y1="350.6" x2="187.16" y2="351.8" stroke="#222" stroke-width="0.5"/>
<text x="187.16" y="356.20" font-size="4.7" text-anchor="middle" fill="#222" color="#222" >20</text>
<line x1="149.60000000000002" y1="314.30" x2="150.8" y2="314.30" stroke="#222" stroke-width="0.5"/>
<text x="149.00" y="315.80" font-size="4.7" text-anchor="end" fill="#222" color="#222" >30</text>
<line x1="205.34" y1="350.6" x2="205.34" y2="351.8" stroke="#222" stroke-width="0.5"/>
<text x="205.34" y="356.20" font-size="4.7" text-anchor="middle" fill="#222" color="#222" >30</text>
<rect x="164.37" y="348.79" width="1.95" height="1.81" fill="#111"/>
<rect x="168.01" y="339.71" width="1.95" height="10.89" fill="#111"/>
<rect x="171.64" y="322.17" width="1.95" height="28.43" fill="#111"/>
<rect x="175.28" y="317.33" width="1.95" height="33.27" fill="#111"/>
<rect x="178.91" y="330.03" width="1.95" height="20.57" fill="#111"/>
<rect x="182.55" y="336.08" width="1.95" height="14.52" fill="#111"/>
<rect x="186.19" y="342.74" width="1.95" height="7.87" fill="#111"/>
<rect x="189.82" y="348.18" width="1.95" height="2.42" fill="#111"/>
<rect x="193.46" y="350.00" width="1.95" height="0.60" fill="#111"/>
<rect x="197.09" y="350.24" width="1.95" height="0.36" fill="#111"/>
<text x="178.07" y="362.50" font-size="4.6" text-anchor="middle" fill="#222" color="#222" >d&#160;&#160;&#160;(nm)</text>
<text x="141.60" y="332.45" font-size="4.9" text-anchor="middle" fill="#333" color="#333" transform="rotate(-90 141.60000000000002 332.45000000000005)">Nanoparticle (%)</text>
<text x="228.30" y="144.70" font-size="11" text-anchor="start" fill="#222" color="#222" textLength="9.6" lengthAdjust="spacingAndGlyphs">E)</text>
<rect x="268.4" y="157.3" width="177.40000000000003" height="162.0" fill="none" stroke="#4a4a4a" stroke-width="1.3"/>
<line x1="357.1" y1="157.3" x2="357.1" y2="319.3" stroke="#555" stroke-width="1.1"/>
<line x1="268.4" y1="222.2" x2="445.8" y2="222.2" stroke="#555" stroke-width="1.1"/>
<line x1="268.4" y1="157.30" x2="270.4" y2="157.30" stroke="#555" stroke-width="0.9"/>
<text x="261.40" y="159.40" font-size="7.8" text-anchor="end" fill="#222" color="#222" >0.2</text>
<line x1="268.4" y1="197.80" x2="270.4" y2="197.80" stroke="#555" stroke-width="0.9"/>
<text x="261.40" y="199.90" font-size="7.8" text-anchor="end" fill="#222" color="#222" >0.1</text>
<line x1="268.4" y1="238.30" x2="270.4" y2="238.30" stroke="#555" stroke-width="0.9"/>
<text x="261.40" y="240.40" font-size="7.8" text-anchor="end" fill="#222" color="#222" >0</text>
<line x1="268.4" y1="278.80" x2="270.4" y2="278.80" stroke="#555" stroke-width="0.9"/>
<text x="261.40" y="280.90" font-size="7.8" text-anchor="end" fill="#222" color="#222" >-0.1</text>
<line x1="268.4" y1="319.30" x2="270.4" y2="319.30" stroke="#555" stroke-width="0.9"/>
<text x="261.40" y="321.40" font-size="7.8" text-anchor="end" fill="#222" color="#222" >-0.2</text>
<line x1="268.40" y1="319.3" x2="268.40" y2="317.3" stroke="#555" stroke-width="0.9"/>
<text x="268.40" y="331.90" font-size="7.8" text-anchor="middle" fill="#222" color="#222" >-0.3</text>
<line x1="297.97" y1="319.3" x2="297.97" y2="317.3" stroke="#555" stroke-width="0.9"/>
<text x="297.97" y="331.90" font-size="7.8" text-anchor="middle" fill="#222" color="#222" >-0.2</text>
<line x1="327.53" y1="319.3" x2="327.53" y2="317.3" stroke="#555" stroke-width="0.9"/>
<text x="327.53" y="331.90" font-size="7.8" text-anchor="middle" fill="#222" color="#222" >-0.1</text>
<line x1="357.10" y1="319.3" x2="357.10" y2="317.3" stroke="#555" stroke-width="0.9"/>
<text x="357.10" y="331.90" font-size="7.8" text-anchor="middle" fill="#222" color="#222" >0</text>
<line x1="386.67" y1="319.3" x2="386.67" y2="317.3" stroke="#555" stroke-width="0.9"/>
<text x="386.67" y="331.90" font-size="7.8" text-anchor="middle" fill="#222" color="#222" >0.1</text>
<line x1="416.23" y1="319.3" x2="416.23" y2="317.3" stroke="#555" stroke-width="0.9"/>
<text x="416.23" y="331.90" font-size="7.8" text-anchor="middle" fill="#222" color="#222" >0.2</text>
<line x1="445.80" y1="319.3" x2="445.80" y2="317.3" stroke="#555" stroke-width="0.9"/>
<text x="445.80" y="331.90" font-size="7.8" text-anchor="middle" fill="#222" color="#222" >0.3</text>
<text x="355.30" y="348.00" font-size="8.8" text-anchor="middle" fill="#222" color="#222" >Principal component 1 (68 %)</text>
<text x="240.20" y="229.80" font-size="9.1" text-anchor="middle" fill="#222" color="#222" transform="rotate(-90 240.2 229.8)">Principal component 2 (14 %)</text>
<ellipse cx="317.8" cy="236.2" rx="39.0" ry="14.3" transform="rotate(12 317.8 236.2)" fill="none" stroke="#111" stroke-width="0.8"/><ellipse cx="317.8" cy="236.2" rx="38.1" ry="13.5" transform="rotate(12 317.8 236.2)" fill="none" stroke="#222" stroke-width="0.55"/>
<ellipse cx="305.0" cy="228.0" rx="24.6" ry="7.2" transform="rotate(4 305.0 228.0)" fill="none" stroke="#111" stroke-width="0.8"/><ellipse cx="305.0" cy="228.0" rx="23.700000000000003" ry="6.4" transform="rotate(4 305.0 228.0)" fill="none" stroke="#222" stroke-width="0.55"/>
<ellipse cx="396.2" cy="203.1" rx="38.5" ry="2.6" transform="rotate(-5.4 396.2 203.1)" fill="none" stroke="#111" stroke-width="0.8"/><ellipse cx="396.2" cy="203.1" rx="37.6" ry="1.8" transform="rotate(-5.4 396.2 203.1)" fill="none" stroke="#222" stroke-width="0.55"/>
<ellipse cx="370.8" cy="277.5" rx="57.4" ry="7.5" transform="rotate(-42.3 370.8 277.5)" fill="none" stroke="#111" stroke-width="0.8"/><ellipse cx="370.8" cy="277.5" rx="56.5" ry="6.7" transform="rotate(-42.3 370.8 277.5)" fill="none" stroke="#222" stroke-width="0.55"/>
<ellipse cx="398.1" cy="246.0" rx="16.4" ry="5.0" transform="rotate(-25 398.1 246.0)" fill="none" stroke="#111" stroke-width="0.8"/><ellipse cx="398.1" cy="246.0" rx="15.499999999999998" ry="4.2" transform="rotate(-25 398.1 246.0)" fill="none" stroke="#222" stroke-width="0.55"/>
<circle cx="305.8" cy="229" r="1.7" fill="#1010f0"/><circle cx="312.8" cy="239.5" r="1.7" fill="#1010f0"/><circle cx="315.7" cy="239.5" r="1.7" fill="#1010f0"/><circle cx="334.2" cy="236.4" r="1.7" fill="#1010f0"/>
<circle cx="297.1" cy="227.7" r="1.7" fill="#6aaa3a"/><circle cx="306.9" cy="226.2" r="1.7" fill="#6aaa3a"/><circle cx="314.6" cy="227.3" r="1.7" fill="#6aaa3a"/><circle cx="301.9" cy="232.1" r="1.7" fill="#6aaa3a"/>
<circle cx="388.8" cy="203.5" r="2.2" fill="#e81010"/>
<circle cx="413.2" cy="201.2" r="1.7" fill="#e81010"/>
<circle cx="375.2" cy="268.9" r="1.7" fill="#ffb800"/><circle cx="385.9" cy="266.6" r="1.7" fill="#ffb800"/><circle cx="363.6" cy="284.5" r="1.7" fill="#ffb800"/><circle cx="355.9" cy="291.8" r="1.7" fill="#ffb800"/>
<circle cx="391.6" cy="249.1" r="1.7" fill="#111"/><circle cx="397" cy="246.6" r="1.7" fill="#111"/><circle cx="399.6" cy="243.4" r="1.7" fill="#111"/><circle cx="403.2" cy="245.5" r="1.7" fill="#111"/>
<rect x="454.3" y="157" width="34.4" height="71.1" fill="#fff" stroke="#444" stroke-width="0.9"/>
<circle cx="462.1" cy="164.7" r="1.75" fill="#1010f0"/>
<text x="465.60" y="167.10" font-size="8.0" text-anchor="start" fill="#222" color="#222" >AA</text>
<circle cx="462.1" cy="178.79999999999998" r="1.75" fill="#ffb800"/>
<text x="465.60" y="181.20" font-size="8.0" text-anchor="start" fill="#222" color="#222" >OD</text>
<circle cx="462.1" cy="192.89999999999998" r="1.75" fill="#6aaa3a"/>
<text x="465.60" y="195.30" font-size="8.0" text-anchor="start" fill="#222" color="#222" >OX</text>
<circle cx="462.1" cy="207.0" r="1.75" fill="#e81010"/>
<text x="465.60" y="209.40" font-size="8.0" text-anchor="start" fill="#222" color="#222" >AC</text>
<circle cx="462.1" cy="221.1" r="1.75" fill="#111"/>
<text x="465.60" y="223.50" font-size="8.0" text-anchor="start" fill="#222" color="#222" >SiNP</text>
<text x="239.20" y="374.00" font-size="11" text-anchor="start" fill="#222" color="#222" textLength="9.8" lengthAdjust="spacingAndGlyphs">F)</text>
<rect x="287.5" y="387.9" width="189.0" height="114.10000000000002" fill="#fff"/>
<line x1="298.40" y1="387.9" x2="298.40" y2="502.0" stroke="#d8d8d8" stroke-width="0.6"/>
<line x1="309.41" y1="387.9" x2="309.41" y2="502.0" stroke="#d8d8d8" stroke-width="0.6"/>
<line x1="320.42" y1="387.9" x2="320.42" y2="502.0" stroke="#d8d8d8" stroke-width="0.6"/>
<line x1="331.43" y1="387.9" x2="331.43" y2="502.0" stroke="#d8d8d8" stroke-width="0.6"/>
<line x1="342.44" y1="387.9" x2="342.44" y2="502.0" stroke="#d8d8d8" stroke-width="0.6"/>
<line x1="353.45" y1="387.9" x2="353.45" y2="502.0" stroke="#d8d8d8" stroke-width="0.6"/>
<line x1="364.46" y1="387.9" x2="364.46" y2="502.0" stroke="#d8d8d8" stroke-width="0.6"/>
<line x1="375.47" y1="387.9" x2="375.47" y2="502.0" stroke="#d8d8d8" stroke-width="0.6"/>
<line x1="386.48" y1="387.9" x2="386.48" y2="502.0" stroke="#d8d8d8" stroke-width="0.6"/>
<line x1="397.49" y1="387.9" x2="397.49" y2="502.0" stroke="#d8d8d8" stroke-width="0.6"/>
<line x1="408.50" y1="387.9" x2="408.50" y2="502.0" stroke="#d8d8d8" stroke-width="0.6"/>
<line x1="419.51" y1="387.9" x2="419.51" y2="502.0" stroke="#d8d8d8" stroke-width="0.6"/>
<line x1="430.52" y1="387.9" x2="430.52" y2="502.0" stroke="#d8d8d8" stroke-width="0.6"/>
<line x1="441.53" y1="387.9" x2="441.53" y2="502.0" stroke="#d8d8d8" stroke-width="0.6"/>
<line x1="452.54" y1="387.9" x2="452.54" y2="502.0" stroke="#d8d8d8" stroke-width="0.6"/>
<line x1="463.55" y1="387.9" x2="463.55" y2="502.0" stroke="#d8d8d8" stroke-width="0.6"/>
<rect x="288.00" y="455.09" width="1.2" height="2.54" fill="#ffc000"/>
<rect x="290.00" y="453.82" width="1.2" height="3.80" fill="#ffc000"/>
<rect x="291.90" y="451.92" width="1.2" height="5.71" fill="#ffc000"/>
<rect x="294.00" y="455.09" width="1.2" height="2.54" fill="#ffc000"/>
<rect x="296.40" y="455.09" width="1.2" height="2.54" fill="#ee1111"/>
<rect x="298.20" y="454.46" width="1.2" height="3.17" fill="#ee1111"/>
<rect x="300.20" y="455.09" width="1.2" height="2.54" fill="#ee1111"/>
<rect x="302.30" y="453.82" width="1.2" height="3.80" fill="#ee1111"/>
<rect x="300.20" y="457.63" width="1.2" height="12.68" fill="#1a1aee"/>
<rect x="311.60" y="423.40" width="1.2" height="34.23" fill="#7f7f7f"/>
<rect x="317.70" y="448.75" width="1.2" height="8.87" fill="#ffc000"/>
<rect x="319.90" y="438.61" width="1.2" height="19.02" fill="#ffc000"/>
<rect x="322.50" y="392.97" width="1.2" height="64.66" fill="#7f7f7f"/>
<rect x="324.90" y="431.00" width="1.2" height="26.62" fill="#ffc000"/>
<rect x="326.90" y="457.63" width="1.2" height="38.03" fill="#1a1aee"/>
<rect x="326.90" y="443.68" width="1.2" height="13.95" fill="#7f7f7f"/>
<rect x="329.00" y="443.68" width="1.2" height="13.95" fill="#ee1111"/>
<rect x="338.00" y="456.99" width="1.2" height="0.63" fill="#ffc000"/>
<rect x="340.40" y="456.36" width="1.2" height="1.27" fill="#ffc000"/>
<rect x="343.20" y="455.09" width="1.2" height="2.54" fill="#ffc000"/>
<rect x="344.80" y="453.82" width="1.2" height="3.80" fill="#ffc000"/>
<rect x="346.70" y="444.95" width="1.2" height="12.68" fill="#ffc000"/>
<rect x="348.60" y="455.09" width="1.2" height="2.54" fill="#ffc000"/>
<rect x="351.20" y="446.22" width="1.2" height="11.41" fill="#ffc000"/>
<rect x="353.20" y="450.65" width="1.2" height="6.97" fill="#70b050"/>
<rect x="354.70" y="450.02" width="1.2" height="7.61" fill="#70b050"/>
<rect x="356.00" y="449.39" width="1.2" height="8.24" fill="#70b050"/>
<rect x="353.20" y="457.63" width="1.2" height="30.43" fill="#ffc000"/>
<rect x="355.40" y="457.63" width="1.2" height="8.87" fill="#1a1aee"/>
<rect x="359.80" y="418.33" width="1.2" height="39.30" fill="#ee1111"/>
<rect x="361.90" y="447.49" width="1.2" height="10.14" fill="#70b050"/>
<rect x="364.20" y="449.39" width="1.2" height="8.24" fill="#70b050"/>
<rect x="370.90" y="455.09" width="1.2" height="2.54" fill="#ffc000"/>
<rect x="372.80" y="455.09" width="1.2" height="2.54" fill="#ffc000"/>
<rect x="374.80" y="457.63" width="1.2" height="3.80" fill="#ffc000"/>
<rect x="377.20" y="451.92" width="1.2" height="5.71" fill="#ee1111"/>
<rect x="377.60" y="457.63" width="1.2" height="2.54" fill="#ffc000"/>
<rect x="379.50" y="457.63" width="1.2" height="17.75" fill="#ffc000"/>
<rect x="381.80" y="450.65" width="1.2" height="6.97" fill="#ee1111"/>
<rect x="381.80" y="457.63" width="1.2" height="2.54" fill="#ffc000"/>
<rect x="383.90" y="457.63" width="1.2" height="20.28" fill="#ffc000"/>
<rect x="386.20" y="446.22" width="1.2" height="11.41" fill="#ffc000"/>
<rect x="390.60" y="436.08" width="1.2" height="21.55" fill="#ee1111"/>
<rect x="398.60" y="455.73" width="1.2" height="1.90" fill="#ffc000"/>
<rect x="399.50" y="455.09" width="1.2" height="2.54" fill="#ffc000"/>
<rect x="401.50" y="457.63" width="1.2" height="1.27" fill="#70b050"/>
<rect x="403.70" y="457.63" width="1.2" height="2.54" fill="#1a1aee"/>
<rect x="405.90" y="457.63" width="1.2" height="7.61" fill="#70b050"/>
<rect x="407.90" y="457.63" width="1.2" height="2.54" fill="#ffc000"/>
<rect x="410.10" y="457.63" width="1.2" height="17.12" fill="#ffc000"/>
<rect x="412.40" y="457.63" width="1.2" height="5.07" fill="#ffc000"/>
<rect x="414.60" y="457.63" width="1.2" height="18.38" fill="#1a1aee"/>
<rect x="416.80" y="457.63" width="1.2" height="6.34" fill="#ffc000"/>
<rect x="423.10" y="456.36" width="1.2" height="1.27" fill="#70b050"/>
<rect x="425.60" y="456.36" width="1.2" height="1.27" fill="#70b050"/>
<rect x="429.80" y="455.09" width="1.2" height="2.54" fill="#ee1111"/>
<rect x="431.80" y="457.63" width="1.2" height="1.27" fill="#70b050"/>
<rect x="434.40" y="453.82" width="1.2" height="3.80" fill="#ee1111"/>
<rect x="439.10" y="457.63" width="1.2" height="4.44" fill="#ffc000"/>
<rect x="441.30" y="457.63" width="1.2" height="19.02" fill="#1a1aee"/>
<rect x="443.30" y="457.63" width="1.2" height="12.68" fill="#ffc000"/>
<rect x="445.30" y="457.63" width="1.2" height="16.48" fill="#1a1aee"/>
<rect x="456.50" y="456.36" width="1.2" height="1.27" fill="#ee1111"/>
<rect x="462.70" y="457.63" width="1.2" height="3.80" fill="#70b050"/>
<rect x="465.20" y="457.63" width="1.2" height="6.34" fill="#1a1aee"/>
<rect x="467.30" y="457.63" width="1.2" height="16.48" fill="#ffc000"/>
<rect x="469.50" y="457.63" width="1.2" height="11.41" fill="#ffc000"/>
<rect x="474.00" y="457.63" width="1.2" height="15.21" fill="#ee1111"/>
<line x1="287.5" y1="457.63" x2="476.5" y2="457.63" stroke="#777" stroke-width="0.6"/>
<line x1="287.5" y1="457.63" x2="476.5" y2="457.63" stroke="#333" stroke-width="1.1" stroke-dasharray="0.8 1.4"/>
<rect x="287.5" y="387.9" width="189.0" height="114.10000000000002" fill="none" stroke="#8a8a8a" stroke-width="1.3"/>
<text x="282.20" y="390.10" font-size="6.6" text-anchor="end" fill="#222" color="#222" >0.55</text>
<text x="282.20" y="402.78" font-size="6.6" text-anchor="end" fill="#222" color="#222" >0.45</text>
<text x="282.20" y="415.46" font-size="6.6" text-anchor="end" fill="#222" color="#222" >0.35</text>
<text x="282.20" y="428.13" font-size="6.6" text-anchor="end" fill="#222" color="#222" >0.25</text>
<text x="282.20" y="440.81" font-size="6.6" text-anchor="end" fill="#222" color="#222" >0.15</text>
<text x="282.20" y="453.49" font-size="6.6" text-anchor="end" fill="#222" color="#222" >0.05</text>
<text x="282.20" y="466.17" font-size="6.6" text-anchor="end" fill="#222" color="#222" >-0.05</text>
<text x="282.20" y="478.84" font-size="6.6" text-anchor="end" fill="#222" color="#222" >-0.15</text>
<text x="282.20" y="491.52" font-size="6.6" text-anchor="end" fill="#222" color="#222" >-0.25</text>
<text x="282.20" y="504.20" font-size="6.6" text-anchor="end" fill="#222" color="#222" >-0.35</text>
<text x="288.60" y="513.30" font-size="7.2" text-anchor="middle" fill="#222" color="#222" >12</text>
<text x="299.61" y="513.30" font-size="7.2" text-anchor="middle" fill="#222" color="#222" >17</text>
<text x="310.62" y="513.30" font-size="7.2" text-anchor="middle" fill="#222" color="#222" >22</text>
<text x="321.63" y="513.30" font-size="7.2" text-anchor="middle" fill="#222" color="#222" >27</text>
<text x="332.64" y="513.30" font-size="7.2" text-anchor="middle" fill="#222" color="#222" >32</text>
<text x="343.65" y="513.30" font-size="7.2" text-anchor="middle" fill="#222" color="#222" >37</text>
<text x="354.66" y="513.30" font-size="7.2" text-anchor="middle" fill="#222" color="#222" >42</text>
<text x="365.67" y="513.30" font-size="7.2" text-anchor="middle" fill="#222" color="#222" >47</text>
<text x="376.68" y="513.30" font-size="7.2" text-anchor="middle" fill="#222" color="#222" >52</text>
<text x="387.69" y="513.30" font-size="7.2" text-anchor="middle" fill="#222" color="#222" >57</text>
<text x="398.70" y="513.30" font-size="7.2" text-anchor="middle" fill="#222" color="#222" >62</text>
<text x="409.71" y="513.30" font-size="7.2" text-anchor="middle" fill="#222" color="#222" >67</text>
<text x="420.72" y="513.30" font-size="7.2" text-anchor="middle" fill="#222" color="#222" >72</text>
<text x="431.73" y="513.30" font-size="7.2" text-anchor="middle" fill="#222" color="#222" >77</text>
<text x="442.74" y="513.30" font-size="7.2" text-anchor="middle" fill="#222" color="#222" >82</text>
<text x="453.75" y="513.30" font-size="7.2" text-anchor="middle" fill="#222" color="#222" >87</text>
<text x="464.76" y="513.30" font-size="7.2" text-anchor="middle" fill="#222" color="#222" >92</text>
<text x="475.77" y="513.30" font-size="7.2" text-anchor="middle" fill="#222" color="#222" >97</text>
<text x="376.80" y="522.40" font-size="8.0" text-anchor="middle" fill="#222" color="#222" >Nominal mass (Da)</text>
<text x="265.40" y="445.10" font-size="8.0" text-anchor="middle" fill="#222" color="#222" transform="rotate(-90 265.4 445.1)">Loadings on PC1 (68%)</text>
<rect x="286.9" y="528.3" width="3" height="3" fill="#ffc000"/>
<text x="292.40" y="532.30" font-size="7.2" text-anchor="start" fill="#222" color="#222" >CxHy</text>
<rect x="313.5" y="528.3" width="3" height="3" fill="#ee1111"/>
<text x="319.00" y="532.30" font-size="7.2" text-anchor="start" fill="#222" color="#222" >CxHyOz</text>
<rect x="349.7" y="528.3" width="3" height="3" fill="#1a1aee"/>
<text x="355.20" y="532.30" font-size="7.2" text-anchor="start" fill="#222" color="#222" >CxHyNz</text>
<rect x="385.3" y="528.3" width="3" height="3" fill="#70b050"/>
<text x="390.80" y="532.30" font-size="7.2" text-anchor="start" fill="#222" color="#222" >CxHyNzOt</text>
<rect x="428.5" y="528.3" width="3" height="3" fill="#7f7f7f"/>
<text x="434.00" y="532.30" font-size="7.2" text-anchor="start" fill="#222" color="#222" >SixHy</text>
<text x="3.20" y="380.60" font-size="11" text-anchor="start" fill="#222" color="#222" letter-spacing="0.9">G)</text>
<rect x="52.3" y="396.3" width="172.10000000000002" height="127.59999999999997" fill="none" stroke="#6a6a6a" stroke-width="1.2"/>
<line x1="52.30" y1="523.9" x2="52.30" y2="525.8" stroke="#6a6a6a" stroke-width="0.7"/>
<line x1="52.30" y1="396.3" x2="52.30" y2="398.2" stroke="#6a6a6a" stroke-width="0.7"/>
<text x="52.30" y="535.10" font-size="8.2" text-anchor="middle" fill="#222" color="#222" >0</text>
<line x1="65.45" y1="523.9" x2="65.45" y2="525.1" stroke="#6a6a6a" stroke-width="0.7"/>
<line x1="65.45" y1="396.3" x2="65.45" y2="397.5" stroke="#6a6a6a" stroke-width="0.7"/>
<line x1="78.60" y1="523.9" x2="78.60" y2="525.8" stroke="#6a6a6a" stroke-width="0.7"/>
<line x1="78.60" y1="396.3" x2="78.60" y2="398.2" stroke="#6a6a6a" stroke-width="0.7"/>
<text x="78.60" y="535.10" font-size="8.2" text-anchor="middle" fill="#222" color="#222" >2</text>
<line x1="91.75" y1="523.9" x2="91.75" y2="525.1" stroke="#6a6a6a" stroke-width="0.7"/>
<line x1="91.75" y1="396.3" x2="91.75" y2="397.5" stroke="#6a6a6a" stroke-width="0.7"/>
<line x1="104.90" y1="523.9" x2="104.90" y2="525.8" stroke="#6a6a6a" stroke-width="0.7"/>
<line x1="104.90" y1="396.3" x2="104.90" y2="398.2" stroke="#6a6a6a" stroke-width="0.7"/>
<text x="104.90" y="535.10" font-size="8.2" text-anchor="middle" fill="#222" color="#222" >4</text>
<line x1="118.05" y1="523.9" x2="118.05" y2="525.1" stroke="#6a6a6a" stroke-width="0.7"/>
<line x1="118.05" y1="396.3" x2="118.05" y2="397.5" stroke="#6a6a6a" stroke-width="0.7"/>
<line x1="131.20" y1="523.9" x2="131.20" y2="525.8" stroke="#6a6a6a" stroke-width="0.7"/>
<line x1="131.20" y1="396.3" x2="131.20" y2="398.2" stroke="#6a6a6a" stroke-width="0.7"/>
<text x="131.20" y="535.10" font-size="8.2" text-anchor="middle" fill="#222" color="#222" >6</text>
<line x1="144.35" y1="523.9" x2="144.35" y2="525.1" stroke="#6a6a6a" stroke-width="0.7"/>
<line x1="144.35" y1="396.3" x2="144.35" y2="397.5" stroke="#6a6a6a" stroke-width="0.7"/>
<line x1="157.50" y1="523.9" x2="157.50" y2="525.8" stroke="#6a6a6a" stroke-width="0.7"/>
<line x1="157.50" y1="396.3" x2="157.50" y2="398.2" stroke="#6a6a6a" stroke-width="0.7"/>
<text x="157.50" y="535.10" font-size="8.2" text-anchor="middle" fill="#222" color="#222" >8</text>
<line x1="170.65" y1="523.9" x2="170.65" y2="525.1" stroke="#6a6a6a" stroke-width="0.7"/>
<line x1="170.65" y1="396.3" x2="170.65" y2="397.5" stroke="#6a6a6a" stroke-width="0.7"/>
<line x1="183.80" y1="523.9" x2="183.80" y2="525.8" stroke="#6a6a6a" stroke-width="0.7"/>
<line x1="183.80" y1="396.3" x2="183.80" y2="398.2" stroke="#6a6a6a" stroke-width="0.7"/>
<text x="183.80" y="535.10" font-size="8.2" text-anchor="middle" fill="#222" color="#222" >10</text>
<line x1="196.95" y1="523.9" x2="196.95" y2="525.1" stroke="#6a6a6a" stroke-width="0.7"/>
<line x1="196.95" y1="396.3" x2="196.95" y2="397.5" stroke="#6a6a6a" stroke-width="0.7"/>
<line x1="210.10" y1="523.9" x2="210.10" y2="525.8" stroke="#6a6a6a" stroke-width="0.7"/>
<line x1="210.10" y1="396.3" x2="210.10" y2="398.2" stroke="#6a6a6a" stroke-width="0.7"/>
<text x="210.10" y="535.10" font-size="8.2" text-anchor="middle" fill="#222" color="#222" >12</text>
<line x1="223.25" y1="523.9" x2="223.25" y2="525.1" stroke="#6a6a6a" stroke-width="0.7"/>
<line x1="223.25" y1="396.3" x2="223.25" y2="397.5" stroke="#6a6a6a" stroke-width="0.7"/>
<line x1="52.3" y1="396.30" x2="50.4" y2="396.30" stroke="#6a6a6a" stroke-width="0.7"/>
<line x1="224.4" y1="396.30" x2="222.5" y2="396.30" stroke="#6a6a6a" stroke-width="0.7"/>
<text x="48.10" y="399.25" font-size="8.2" text-anchor="end" fill="#222" color="#222" >20</text>
<line x1="52.3" y1="406.93" x2="51.099999999999994" y2="406.93" stroke="#6a6a6a" stroke-width="0.7"/>
<line x1="224.4" y1="406.93" x2="223.20000000000002" y2="406.93" stroke="#6a6a6a" stroke-width="0.7"/>
<line x1="52.3" y1="417.57" x2="50.4" y2="417.57" stroke="#6a6a6a" stroke-width="0.7"/>
<line x1="224.4" y1="417.57" x2="222.5" y2="417.57" stroke="#6a6a6a" stroke-width="0.7"/>
<text x="48.10" y="420.52" font-size="8.2" text-anchor="end" fill="#222" color="#222" >10</text>
<line x1="52.3" y1="428.20" x2="51.099999999999994" y2="428.20" stroke="#6a6a6a" stroke-width="0.7"/>
<line x1="224.4" y1="428.20" x2="223.20000000000002" y2="428.20" stroke="#6a6a6a" stroke-width="0.7"/>
<line x1="52.3" y1="438.83" x2="50.4" y2="438.83" stroke="#6a6a6a" stroke-width="0.7"/>
<line x1="224.4" y1="438.83" x2="222.5" y2="438.83" stroke="#6a6a6a" stroke-width="0.7"/>
<text x="48.10" y="441.78" font-size="8.2" text-anchor="end" fill="#222" color="#222" >0</text>
<line x1="52.3" y1="449.47" x2="51.099999999999994" y2="449.47" stroke="#6a6a6a" stroke-width="0.7"/>
<line x1="224.4" y1="449.47" x2="223.20000000000002" y2="449.47" stroke="#6a6a6a" stroke-width="0.7"/>
<line x1="52.3" y1="460.10" x2="50.4" y2="460.10" stroke="#6a6a6a" stroke-width="0.7"/>
<line x1="224.4" y1="460.10" x2="222.5" y2="460.10" stroke="#6a6a6a" stroke-width="0.7"/>
<text x="48.10" y="463.05" font-size="8.2" text-anchor="end" fill="#222" color="#222" >-10</text>
<line x1="52.3" y1="470.73" x2="51.099999999999994" y2="470.73" stroke="#6a6a6a" stroke-width="0.7"/>
<line x1="224.4" y1="470.73" x2="223.20000000000002" y2="470.73" stroke="#6a6a6a" stroke-width="0.7"/>
<line x1="52.3" y1="481.37" x2="50.4" y2="481.37" stroke="#6a6a6a" stroke-width="0.7"/>
<line x1="224.4" y1="481.37" x2="222.5" y2="481.37" stroke="#6a6a6a" stroke-width="0.7"/>
<text x="48.10" y="484.32" font-size="8.2" text-anchor="end" fill="#222" color="#222" >-20</text>
<line x1="52.3" y1="492.00" x2="51.099999999999994" y2="492.00" stroke="#6a6a6a" stroke-width="0.7"/>
<line x1="224.4" y1="492.00" x2="223.20000000000002" y2="492.00" stroke="#6a6a6a" stroke-width="0.7"/>
<line x1="52.3" y1="502.63" x2="50.4" y2="502.63" stroke="#6a6a6a" stroke-width="0.7"/>
<line x1="224.4" y1="502.63" x2="222.5" y2="502.63" stroke="#6a6a6a" stroke-width="0.7"/>
<text x="48.10" y="505.58" font-size="8.2" text-anchor="end" fill="#222" color="#222" >-30</text>
<line x1="52.3" y1="513.27" x2="51.099999999999994" y2="513.27" stroke="#6a6a6a" stroke-width="0.7"/>
<line x1="224.4" y1="513.27" x2="223.20000000000002" y2="513.27" stroke="#6a6a6a" stroke-width="0.7"/>
<line x1="52.3" y1="523.90" x2="50.4" y2="523.90" stroke="#6a6a6a" stroke-width="0.7"/>
<line x1="224.4" y1="523.90" x2="222.5" y2="523.90" stroke="#6a6a6a" stroke-width="0.7"/>
<text x="48.10" y="526.85" font-size="8.2" text-anchor="end" fill="#222" color="#222" >-40</text>
<line x1="52.3" y1="438.83" x2="224.4" y2="438.83" stroke="#8c8c8c" stroke-width="1.2" stroke-dasharray="2 2.2"/>
<line x1="151.3" y1="396.3" x2="151.3" y2="523.9" stroke="#444" stroke-width="0.9"/>
<path d="M65.7,443.2 L77.7,459.6 L87.1,475.7 L91.6,491.8 L106.8,499.8 L134.8,506.2 L144.9,506.8 L158.6,510 L172.3,498.2 L193.9,501.1 L200.6,500.1" fill="none" stroke="#4a4a4a" stroke-width="0.75"/>
<path d="M79.3,400.5 L92.9,404.9 L106.0,412.4 L121.6,416.8 L137.2,421.5 L147.7,433 L163.4,445.8 L189.7,463.5" fill="none" stroke="#6a6aff" stroke-width="0.75"/>
<path d="M65.7,439.6 L90.2,457.3 L102.7,466.4 L113.4,477.9 L118.4,482.5 L131.6,492.7 L151,499.7 L164.3,498.8 L172.3,497.8 L191,493.4" fill="none" stroke="#ff5050" stroke-width="0.75"/>
<path d="M80,432 L95.5,436.4 L104.1,436.8 L118.6,453.6 L131.8,474.3 L150.4,478.2 L157.1,484.9 L190.7,492.1 L202.9,492.5" fill="none" stroke="#2a9a2a" stroke-width="0.75"/>
<path d="M65.2,433.75 L87,441.8 L95.2,443.2 L108,452.5 L127.1,461 L132.5,461 L155.8,477.6 L167.2,495.9 L193,499.2" fill="none" stroke="#ff9a30" stroke-width="0.75"/>
<path d="M77.7,455.1 L77.7,464.1 M76.8,455.1 L78.60000000000001,455.1 M76.8,464.1 L78.60000000000001,464.1" stroke="#4a4a4a" stroke-width="0.6" fill="none"/>
<path d="M91.6,490.3 L91.6,493.3 M90.69999999999999,490.3 L92.5,490.3 M90.69999999999999,493.3 L92.5,493.3" stroke="#4a4a4a" stroke-width="0.6" fill="none"/>
<path d="M106.8,496.6 L106.8,503.0 M105.89999999999999,496.6 L107.7,496.6 M105.89999999999999,503.0 L107.7,503.0" stroke="#4a4a4a" stroke-width="0.6" fill="none"/>
<path d="M134.8,503.2 L134.8,509.2 M133.9,503.2 L135.70000000000002,503.2 M133.9,509.2 L135.70000000000002,509.2" stroke="#4a4a4a" stroke-width="0.6" fill="none"/>
<path d="M193.9,498.1 L193.9,504.1 M193.0,498.1 L194.8,498.1 M193.0,504.1 L194.8,504.1" stroke="#4a4a4a" stroke-width="0.6" fill="none"/>
<path d="M172.3,496.4 L172.3,500.0 M171.4,496.4 L173.20000000000002,496.4 M171.4,500.0 L173.20000000000002,500.0" stroke="#4a4a4a" stroke-width="0.6" fill="none"/>
<path d="M65.7,440.7 L65.7,445.7 M64.8,440.7 L66.60000000000001,440.7 M64.8,445.7 L66.60000000000001,445.7" stroke="#4a4a4a" stroke-width="0.6" fill="none"/>
<rect x="63.65" y="441.15" width="4.10" height="4.10" fill="url(#hfSiO2)" stroke="#111" stroke-width="0.75"/>
<rect x="75.65" y="457.55" width="4.10" height="4.10" fill="url(#hfSiO2)" stroke="#111" stroke-width="0.75"/>
<rect x="85.05" y="473.65" width="4.10" height="4.10" fill="url(#hfSiO2)" stroke="#111" stroke-width="0.75"/>
<rect x="89.55" y="489.75" width="4.10" height="4.10" fill="url(#hfSiO2)" stroke="#111" stroke-width="0.75"/>
<rect x="104.75" y="497.75" width="4.10" height="4.10" fill="url(#hfSiO2)" stroke="#111" stroke-width="0.75"/>
<rect x="132.75" y="504.15" width="4.10" height="4.10" fill="url(#hfSiO2)" stroke="#111" stroke-width="0.75"/>
<rect x="142.85" y="504.75" width="4.10" height="4.10" fill="url(#hfSiO2)" stroke="#111" stroke-width="0.75"/>
<rect x="156.55" y="507.95" width="4.10" height="4.10" fill="url(#hfSiO2)" stroke="#111" stroke-width="0.75"/>
<rect x="170.25" y="496.15" width="4.10" height="4.10" fill="url(#hfSiO2)" stroke="#111" stroke-width="0.75"/>
<rect x="191.85" y="499.05" width="4.10" height="4.10" fill="url(#hfSiO2)" stroke="#111" stroke-width="0.75"/>
<rect x="198.55" y="498.05" width="4.10" height="4.10" fill="url(#hfSiO2)" stroke="#111" stroke-width="0.75"/>
<path d="M147.7,425 L147.7,441 M146.79999999999998,425 L148.6,425 M146.79999999999998,441 L148.6,441" stroke="#6a6aff" stroke-width="0.6" fill="none"/>
<path d="M163.4,438.8 L163.4,452.8 M162.5,438.8 L164.3,438.8 M162.5,452.8 L164.3,452.8" stroke="#6a6aff" stroke-width="0.6" fill="none"/>
<path d="M79.3,399.0 L79.3,402.0 M78.39999999999999,399.0 L80.2,399.0 M78.39999999999999,402.0 L80.2,402.0" stroke="#6a6aff" stroke-width="0.6" fill="none"/>
<path d="M106.0,410.59999999999997 L106.0,414.2 M105.1,410.59999999999997 L106.9,410.59999999999997 M105.1,414.2 L106.9,414.2" stroke="#6a6aff" stroke-width="0.6" fill="none"/>
<path d="M121.6,415.3 L121.6,418.3 M120.69999999999999,415.3 L122.5,415.3 M120.69999999999999,418.3 L122.5,418.3" stroke="#6a6aff" stroke-width="0.6" fill="none"/>
<circle cx="79.3" cy="400.5" r="2.25" fill="url(#hfAA)" stroke="#1a1aff" stroke-width="0.75"/>
<circle cx="92.9" cy="404.9" r="2.25" fill="url(#hfAA)" stroke="#1a1aff" stroke-width="0.75"/>
<circle cx="106.0" cy="412.4" r="2.25" fill="url(#hfAA)" stroke="#1a1aff" stroke-width="0.75"/>
<circle cx="121.6" cy="416.8" r="2.25" fill="url(#hfAA)" stroke="#1a1aff" stroke-width="0.75"/>
<circle cx="137.2" cy="421.5" r="2.25" fill="url(#hfAA)" stroke="#1a1aff" stroke-width="0.75"/>
<circle cx="147.7" cy="433" r="2.25" fill="url(#hfAA)" stroke="#1a1aff" stroke-width="0.75"/>
<circle cx="163.4" cy="445.8" r="2.25" fill="url(#hfAA)" stroke="#1a1aff" stroke-width="0.75"/>
<circle cx="189.7" cy="463.5" r="2.25" fill="url(#hfAA)" stroke="#1a1aff" stroke-width="0.75"/>
<path d="M191,483.4 L191,503.4 M190.1,483.4 L191.9,483.4 M190.1,503.4 L191.9,503.4" stroke="#ff5050" stroke-width="0.6" fill="none"/>
<path d="M65.70,436.95 L68.15,441.65 L63.25,441.65 Z" fill="url(#hfAc)" stroke="#ff1010" stroke-width="0.75"/>
<path d="M90.20,454.65 L92.65,459.35 L87.75,459.35 Z" fill="url(#hfAc)" stroke="#ff1010" stroke-width="0.75"/>
<path d="M102.70,463.75 L105.15,468.45 L100.25,468.45 Z" fill="url(#hfAc)" stroke="#ff1010" stroke-width="0.75"/>
<path d="M113.40,475.25 L115.85,479.95 L110.95,479.95 Z" fill="url(#hfAc)" stroke="#ff1010" stroke-width="0.75"/>
<path d="M118.40,479.85 L120.85,484.55 L115.95,484.55 Z" fill="url(#hfAc)" stroke="#ff1010" stroke-width="0.75"/>
<path d="M131.60,490.05 L134.05,494.75 L129.15,494.75 Z" fill="url(#hfAc)" stroke="#ff1010" stroke-width="0.75"/>
<path d="M151.00,497.05 L153.45,501.75 L148.55,501.75 Z" fill="url(#hfAc)" stroke="#ff1010" stroke-width="0.75"/>
<path d="M164.30,496.15 L166.75,500.85 L161.85,500.85 Z" fill="url(#hfAc)" stroke="#ff1010" stroke-width="0.75"/>
<path d="M172.30,495.15 L174.75,499.85 L169.85,499.85 Z" fill="url(#hfAc)" stroke="#ff1010" stroke-width="0.75"/>
<path d="M191.00,490.75 L193.45,495.45 L188.55,495.45 Z" fill="url(#hfAc)" stroke="#ff1010" stroke-width="0.75"/>
<path d="M118.6,447.1 L118.6,460.1 M117.69999999999999,447.1 L119.5,447.1 M117.69999999999999,460.1 L119.5,460.1" stroke="#2a9a2a" stroke-width="0.6" fill="none"/>
<path d="M131.8,467.3 L131.8,481.3 M130.9,467.3 L132.70000000000002,467.3 M130.9,481.3 L132.70000000000002,481.3" stroke="#2a9a2a" stroke-width="0.6" fill="none"/>
<path d="M150.4,474.2 L150.4,482.2 M149.5,474.2 L151.3,474.2 M149.5,482.2 L151.3,482.2" stroke="#2a9a2a" stroke-width="0.6" fill="none"/>
<path d="M80.00,429.45 L82.85,432.00 L80.00,434.55 L77.15,432.00 Z" fill="url(#hfOX)" stroke="#0f7a0f" stroke-width="0.75"/>
<path d="M95.50,433.85 L98.35,436.40 L95.50,438.95 L92.65,436.40 Z" fill="url(#hfOX)" stroke="#0f7a0f" stroke-width="0.75"/>
<path d="M104.10,434.25 L106.95,436.80 L104.10,439.35 L101.25,436.80 Z" fill="url(#hfOX)" stroke="#0f7a0f" stroke-width="0.75"/>
<path d="M118.60,451.05 L121.45,453.60 L118.60,456.15 L115.75,453.60 Z" fill="url(#hfOX)" stroke="#0f7a0f" stroke-width="0.75"/>
<path d="M131.80,471.75 L134.65,474.30 L131.80,476.85 L128.95,474.30 Z" fill="url(#hfOX)" stroke="#0f7a0f" stroke-width="0.75"/>
<path d="M150.40,475.65 L153.25,478.20 L150.40,480.75 L147.55,478.20 Z" fill="url(#hfOX)" stroke="#0f7a0f" stroke-width="0.75"/>
<path d="M157.10,482.35 L159.95,484.90 L157.10,487.45 L154.25,484.90 Z" fill="url(#hfOX)" stroke="#0f7a0f" stroke-width="0.75"/>
<path d="M190.70,489.55 L193.55,492.10 L190.70,494.65 L187.85,492.10 Z" fill="url(#hfOX)" stroke="#0f7a0f" stroke-width="0.75"/>
<path d="M202.90,489.95 L205.75,492.50 L202.90,495.05 L200.05,492.50 Z" fill="url(#hfOX)" stroke="#0f7a0f" stroke-width="0.75"/>
<path d="M108,447.5 L108,457.5 M107.1,447.5 L108.9,447.5 M107.1,457.5 L108.9,457.5" stroke="#ff9a30" stroke-width="0.6" fill="none"/>
<path d="M127.1,457 L127.1,465 M126.19999999999999,457 L128.0,457 M126.19999999999999,465 L128.0,465" stroke="#ff9a30" stroke-width="0.6" fill="none"/>
<path d="M193,495.2 L193,503.2 M192.1,495.2 L193.9,495.2 M192.1,503.2 L193.9,503.2" stroke="#ff9a30" stroke-width="0.6" fill="none"/>
<path d="M155.8,475.1 L155.8,480.1 M154.9,475.1 L156.70000000000002,475.1 M154.9,480.1 L156.70000000000002,480.1" stroke="#ff9a30" stroke-width="0.6" fill="none"/>
<path d="M62.95,431.30 L67.85,433.75 L62.95,436.20 Z" fill="url(#hfOD)" stroke="#ff8000" stroke-width="0.75"/>
<path d="M84.75,439.35 L89.65,441.80 L84.75,444.25 Z" fill="url(#hfOD)" stroke="#ff8000" stroke-width="0.75"/>
<path d="M92.95,440.75 L97.85,443.20 L92.95,445.65 Z" fill="url(#hfOD)" stroke="#ff8000" stroke-width="0.75"/>
<path d="M105.75,450.05 L110.65,452.50 L105.75,454.95 Z" fill="url(#hfOD)" stroke="#ff8000" stroke-width="0.75"/>
<path d="M124.85,458.55 L129.75,461.00 L124.85,463.45 Z" fill="url(#hfOD)" stroke="#ff8000" stroke-width="0.75"/>
<path d="M130.25,458.55 L135.15,461.00 L130.25,463.45 Z" fill="url(#hfOD)" stroke="#ff8000" stroke-width="0.75"/>
<path d="M153.55,475.15 L158.45,477.60 L153.55,480.05 Z" fill="url(#hfOD)" stroke="#ff8000" stroke-width="0.75"/>
<path d="M164.95,493.45 L169.85,495.90 L164.95,498.35 Z" fill="url(#hfOD)" stroke="#ff8000" stroke-width="0.75"/>
<path d="M190.75,496.75 L195.65,499.20 L190.75,501.65 Z" fill="url(#hfOD)" stroke="#ff8000" stroke-width="0.75"/>
<rect x="187.3" y="386.1" width="47.3" height="62.1" fill="#1a1a1a"/>
<rect x="184.6" y="383.3" width="47.3" height="62.1" fill="#fff" stroke="#333" stroke-width="0.7"/>
<line x1="189.3" y1="394.3" x2="208.9" y2="394.3" stroke="#4a4a4a" stroke-width="0.75"/>
<rect x="197.30" y="392.40" width="3.80" height="3.80" fill="url(#hfSiO2)" stroke="#111" stroke-width="0.75"/>
<text x="211.40" y="397.70" font-size="9.2" text-anchor="start" fill="#222" color="#222" >SiO<tspan font-size="6" dy="2.4">2</tspan></text>
<line x1="189.3" y1="405.4" x2="208.9" y2="405.4" stroke="#6a6aff" stroke-width="0.75"/>
<circle cx="199.2" cy="405.4" r="2.1" fill="url(#hfAA)" stroke="#1a1aff" stroke-width="0.75"/>
<text x="211.40" y="408.80" font-size="9.2" text-anchor="start" fill="#222" color="#222" >AA</text>
<line x1="189.3" y1="415.3" x2="208.9" y2="415.3" stroke="#ff5050" stroke-width="0.75"/>
<path d="M199.20,412.80 L201.50,417.20 L196.90,417.20 Z" fill="url(#hfAc)" stroke="#ff1010" stroke-width="0.75"/>
<text x="211.40" y="418.70" font-size="9.2" text-anchor="start" fill="#222" color="#222" >Ac</text>
<line x1="189.3" y1="425.2" x2="208.9" y2="425.2" stroke="#2a9a2a" stroke-width="0.75"/>
<path d="M199.20,422.80 L201.90,425.20 L199.20,427.60 L196.50,425.20 Z" fill="url(#hfOX)" stroke="#0f7a0f" stroke-width="0.75"/>
<text x="211.40" y="428.60" font-size="9.2" text-anchor="start" fill="#222" color="#222" >OX</text>
<line x1="189.3" y1="434.6" x2="208.9" y2="434.6" stroke="#ff9a30" stroke-width="0.75"/>
<path d="M197.10,432.30 L201.70,434.60 L197.10,436.90 Z" fill="url(#hfOD)" stroke="#ff8000" stroke-width="0.75"/>
<text x="211.40" y="438.00" font-size="9.2" text-anchor="start" fill="#222" color="#222" >OD</text>
<line x1="52.3" y1="438.83" x2="223" y2="438.83" stroke="#8c8c8c" stroke-width="1.0" stroke-dasharray="2 2.2" opacity="0.0"/>
<text x="136.20" y="545.10" font-size="10.8" text-anchor="middle" fill="#222" color="#222" >pH</text>
<text x="31.90" y="458.00" font-size="10.2" text-anchor="middle" fill="#222" color="#222" transform="rotate(-90 31.9 458.0)">Zeta potential (mV)</text>
</svg>
</body></html>
